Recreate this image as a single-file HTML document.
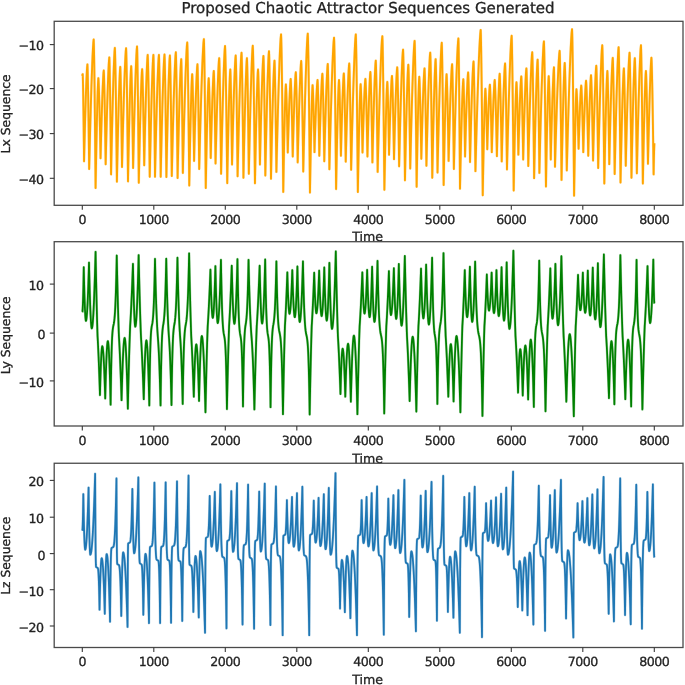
<!DOCTYPE html>
<html><head><meta charset="utf-8"><title>Proposed Chaotic Attractor Sequences Generated</title>
<style>html,body{margin:0;padding:0;background:#fff}body{width:685px;height:685px;overflow:hidden}svg{display:block}text{stroke:#222;stroke-width:0.3px;text-rendering:geometricPrecision}</style></head>
<body>
<svg width="685" height="685" viewBox="0 0 685 685" font-family="'DejaVu Sans', 'Liberation Sans', sans-serif" fill="#222">
<rect width="685" height="685" fill="#fff"/>
<text transform="translate(368.0,12.9) scale(1,1.0)" font-size="15.02" text-anchor="middle">Proposed Chaotic Attractor Sequences Generated</text>
<defs><path id="c0" d="M82.30,76.20 L82.33,75.96 L82.37,75.74 L82.40,75.52 L82.43,75.31 L82.47,75.11 L82.50,74.92 L82.53,74.75 L82.57,74.60 L82.60,74.46 L82.63,74.33 L82.67,74.24 L82.70,74.18 L82.81,76.56 L82.93,80.66 L83.04,85.84 L83.15,91.88 L83.26,98.64 L83.38,106.04 L83.49,114.02 L83.60,122.53 L83.71,131.53 L83.83,141.00 L83.94,150.90 L84.05,161.22 L84.33,149.74 L84.61,138.73 L84.89,128.20 L85.17,118.18 L85.45,108.71 L85.73,99.84 L86.01,91.61 L86.29,84.09 L86.57,77.37 L86.85,71.61 L87.13,67.04 L87.41,64.40 L87.55,67.25 L87.70,72.18 L87.85,78.41 L87.99,85.66 L88.14,93.78 L88.28,102.67 L88.43,112.26 L88.58,122.48 L88.72,133.29 L88.87,144.67 L89.01,156.56 L89.16,168.95 L89.54,153.60 L89.91,138.87 L90.29,124.78 L90.67,111.38 L91.05,98.72 L91.42,86.84 L91.80,75.83 L92.18,65.77 L92.55,56.79 L92.93,49.08 L93.31,42.97 L93.69,39.44 L93.84,43.48 L94.00,50.49 L94.16,59.33 L94.32,69.63 L94.48,81.17 L94.64,93.79 L94.79,107.40 L94.95,121.92 L95.11,137.29 L95.27,153.44 L95.43,170.33 L95.58,187.93 L95.82,174.92 L96.05,162.42 L96.28,150.48 L96.51,139.12 L96.74,128.38 L96.97,118.32 L97.20,108.98 L97.43,100.45 L97.66,92.84 L97.90,86.30 L98.13,81.12 L98.36,78.13 L98.54,80.31 L98.72,84.09 L98.91,88.87 L99.09,94.43 L99.27,100.65 L99.45,107.47 L99.64,114.82 L99.82,122.66 L100.00,130.95 L100.18,139.67 L100.36,148.79 L100.55,158.30 L100.82,147.89 L101.08,137.91 L101.35,128.36 L101.62,119.29 L101.89,110.70 L102.15,102.66 L102.42,95.20 L102.69,88.38 L102.96,82.29 L103.22,77.07 L103.49,72.93 L103.76,70.54 L103.92,73.09 L104.08,77.51 L104.23,83.09 L104.39,89.60 L104.55,96.88 L104.71,104.85 L104.87,113.44 L105.02,122.61 L105.18,132.31 L105.34,142.50 L105.50,153.17 L105.66,164.28 L105.96,151.61 L106.27,139.45 L106.57,127.83 L106.87,116.77 L107.18,106.32 L107.48,96.52 L107.79,87.43 L108.09,79.13 L108.39,71.72 L108.70,65.35 L109.00,60.31 L109.31,57.40 L109.45,60.58 L109.60,66.10 L109.74,73.07 L109.89,81.18 L110.04,90.26 L110.18,100.21 L110.33,110.93 L110.47,122.36 L110.62,134.46 L110.77,147.18 L110.91,160.49 L111.06,174.36 L111.37,159.37 L111.69,144.98 L112.01,131.23 L112.32,118.15 L112.64,105.78 L112.96,94.19 L113.27,83.44 L113.59,73.62 L113.91,64.85 L114.22,57.32 L114.54,51.35 L114.85,47.91 L115.02,51.55 L115.19,57.86 L115.36,65.83 L115.54,75.10 L115.71,85.49 L115.88,96.86 L116.05,109.12 L116.22,122.20 L116.39,136.04 L116.56,150.58 L116.73,165.80 L116.90,181.65 L117.18,168.05 L117.46,154.99 L117.74,142.51 L118.02,130.64 L118.30,119.42 L118.58,108.89 L118.86,99.13 L119.14,90.22 L119.42,82.26 L119.70,75.43 L119.98,70.01 L120.26,66.89 L120.40,69.61 L120.55,74.34 L120.69,80.31 L120.84,87.25 L120.99,95.03 L121.13,103.55 L121.28,112.73 L121.42,122.53 L121.57,132.89 L121.72,143.79 L121.86,155.18 L122.01,167.06 L122.35,152.97 L122.69,139.44 L123.03,126.52 L123.37,114.22 L123.71,102.60 L124.05,91.70 L124.39,81.60 L124.73,72.36 L125.07,64.12 L125.41,57.04 L125.75,51.44 L126.09,48.20 L126.25,51.83 L126.41,58.11 L126.57,66.04 L126.73,75.27 L126.89,85.62 L127.04,96.94 L127.20,109.15 L127.36,122.17 L127.52,135.94 L127.68,150.43 L127.83,165.58 L127.99,181.36 L128.26,167.71 L128.53,154.60 L128.80,142.07 L129.06,130.15 L129.33,118.89 L129.60,108.32 L129.87,98.53 L130.13,89.58 L130.40,81.59 L130.67,74.73 L130.94,69.29 L131.20,66.16 L131.36,68.93 L131.52,73.73 L131.68,79.79 L131.84,86.85 L132.00,94.75 L132.15,103.41 L132.31,112.74 L132.47,122.69 L132.63,133.22 L132.79,144.29 L132.94,155.87 L133.10,167.93 L133.43,153.53 L133.76,139.71 L134.09,126.50 L134.42,113.93 L134.74,102.05 L135.07,90.91 L135.40,80.58 L135.73,71.15 L136.06,62.72 L136.39,55.49 L136.72,49.76 L137.04,46.45 L137.19,50.16 L137.34,56.60 L137.48,64.72 L137.63,74.17 L137.77,84.77 L137.92,96.36 L138.07,108.87 L138.21,122.20 L138.36,136.31 L138.50,151.14 L138.65,166.66 L138.80,182.82 L139.08,169.34 L139.36,156.40 L139.64,144.03 L139.91,132.26 L140.19,121.14 L140.47,110.71 L140.75,101.04 L141.03,92.20 L141.31,84.31 L141.59,77.54 L141.87,72.17 L142.15,69.08 L142.32,71.70 L142.49,76.24 L142.66,81.97 L142.83,88.64 L143.00,96.11 L143.18,104.30 L143.35,113.12 L143.52,122.53 L143.69,132.48 L143.86,142.95 L144.03,153.90 L144.20,165.30 L144.49,152.22 L144.78,139.66 L145.07,127.65 L145.36,116.23 L145.66,105.44 L145.95,95.32 L146.24,85.93 L146.53,77.36 L146.82,69.70 L147.12,63.13 L147.41,57.92 L147.70,54.91 L147.87,58.23 L148.04,63.98 L148.21,71.23 L148.38,79.67 L148.55,89.13 L148.72,99.49 L148.89,110.65 L149.06,122.56 L149.23,135.16 L149.40,148.40 L149.57,162.26 L149.74,176.69 L150.05,162.26 L150.35,148.40 L150.66,135.16 L150.96,122.56 L151.27,110.65 L151.57,99.49 L151.87,89.13 L152.18,79.67 L152.48,71.23 L152.79,63.98 L153.09,58.23 L153.39,54.91 L153.53,58.23 L153.66,63.98 L153.80,71.23 L153.93,79.67 L154.06,89.13 L154.20,99.49 L154.33,110.65 L154.46,122.56 L154.60,135.16 L154.73,148.40 L154.87,162.26 L155.00,176.69 L155.33,162.26 L155.66,148.40 L155.99,135.16 L156.31,122.56 L156.64,110.65 L156.97,99.49 L157.30,89.13 L157.63,79.67 L157.96,71.23 L158.28,63.98 L158.61,58.23 L158.94,54.91 L159.09,58.23 L159.23,63.98 L159.38,71.23 L159.53,79.67 L159.67,89.13 L159.82,99.49 L159.96,110.65 L160.11,122.56 L160.26,135.16 L160.40,148.40 L160.55,162.26 L160.69,176.69 L161.01,162.20 L161.33,148.30 L161.64,135.01 L161.96,122.36 L162.27,110.41 L162.59,99.21 L162.91,88.82 L163.22,79.32 L163.54,70.85 L163.86,63.57 L164.17,57.81 L164.49,54.48 L164.65,57.81 L164.81,63.59 L164.96,70.89 L165.12,79.38 L165.28,88.90 L165.44,99.32 L165.60,110.55 L165.75,122.53 L165.91,135.20 L166.07,148.52 L166.23,162.46 L166.39,176.98 L166.68,162.58 L166.97,148.76 L167.26,135.55 L167.55,122.98 L167.85,111.10 L168.14,99.96 L168.43,89.63 L168.72,80.20 L169.01,71.77 L169.31,64.54 L169.60,58.81 L169.89,55.50 L170.05,58.78 L170.21,64.46 L170.36,71.64 L170.52,79.99 L170.68,89.35 L170.84,99.59 L171.00,110.63 L171.16,122.41 L171.31,134.87 L171.47,147.98 L171.63,161.68 L171.79,175.96 L172.13,161.30 L172.46,147.23 L172.80,133.78 L173.14,120.99 L173.48,108.89 L173.81,97.55 L174.15,87.04 L174.49,77.43 L174.83,68.86 L175.16,61.49 L175.50,55.66 L175.84,52.29 L175.99,55.71 L176.13,61.64 L176.28,69.13 L176.42,77.85 L176.57,87.61 L176.72,98.30 L176.86,109.83 L177.01,122.12 L177.15,135.13 L177.30,148.80 L177.45,163.10 L177.59,178.01 L177.90,163.92 L178.20,150.39 L178.50,137.47 L178.81,125.17 L179.11,113.55 L179.42,102.65 L179.72,92.55 L180.02,83.31 L180.33,75.07 L180.63,67.99 L180.94,62.39 L181.24,59.15 L181.37,62.25 L181.51,67.61 L181.64,74.39 L181.78,82.27 L181.91,91.11 L182.04,100.78 L182.18,111.21 L182.31,122.33 L182.45,134.10 L182.58,146.47 L182.71,159.41 L182.85,172.90 L183.21,157.44 L183.58,142.61 L183.94,128.42 L184.31,114.93 L184.67,102.19 L185.04,90.23 L185.40,79.14 L185.77,69.02 L186.13,59.97 L186.50,52.21 L186.86,46.06 L187.23,42.51 L187.40,46.40 L187.57,53.14 L187.74,61.66 L187.91,71.57 L188.08,82.67 L188.25,94.83 L188.42,107.93 L188.59,121.91 L188.76,136.70 L188.93,152.24 L189.10,168.51 L189.27,185.45 L189.51,172.26 L189.76,159.60 L190.00,147.50 L190.24,135.99 L190.49,125.11 L190.73,114.91 L190.97,105.45 L191.22,96.81 L191.46,89.09 L191.70,82.46 L191.95,77.22 L192.19,74.18 L192.35,76.55 L192.51,80.64 L192.66,85.81 L192.82,91.82 L192.98,98.56 L193.14,105.93 L193.30,113.89 L193.45,122.37 L193.61,131.34 L193.77,140.77 L193.93,150.64 L194.09,160.92 L194.37,149.47 L194.65,138.47 L194.93,127.95 L195.21,117.95 L195.49,108.50 L195.77,99.64 L196.05,91.42 L196.33,83.91 L196.61,77.21 L196.89,71.45 L197.17,66.89 L197.45,64.26 L197.59,67.11 L197.74,72.05 L197.88,78.28 L198.03,85.54 L198.18,93.68 L198.32,102.58 L198.47,112.18 L198.61,122.41 L198.76,133.25 L198.91,144.63 L199.05,156.54 L199.20,168.95 L199.59,153.57 L199.98,138.80 L200.36,124.68 L200.75,111.25 L201.14,98.56 L201.53,86.66 L201.92,75.62 L202.31,65.54 L202.70,56.54 L203.09,48.81 L203.48,42.68 L203.87,39.15 L204.03,43.20 L204.18,50.22 L204.34,59.08 L204.50,69.40 L204.66,80.96 L204.82,93.61 L204.98,107.25 L205.13,121.79 L205.29,137.19 L205.45,153.37 L205.61,170.30 L205.77,187.93 L206.01,174.93 L206.25,162.46 L206.50,150.53 L206.74,139.19 L206.98,128.46 L207.23,118.41 L207.47,109.09 L207.71,100.57 L207.96,92.96 L208.20,86.43 L208.44,81.26 L208.69,78.27 L208.86,80.44 L209.03,84.21 L209.20,88.95 L209.37,94.48 L209.54,100.68 L209.71,107.46 L209.88,114.77 L210.05,122.56 L210.22,130.81 L210.39,139.48 L210.56,148.55 L210.73,158.01 L210.99,147.69 L211.24,137.79 L211.50,128.32 L211.75,119.32 L212.01,110.81 L212.26,102.83 L212.52,95.43 L212.77,88.67 L213.03,82.63 L213.28,77.45 L213.54,73.34 L213.80,70.97 L213.94,73.49 L214.09,77.86 L214.23,83.38 L214.38,89.80 L214.53,96.99 L214.67,104.86 L214.82,113.35 L214.96,122.40 L215.11,131.98 L215.26,142.05 L215.40,152.58 L215.55,163.55 L215.85,151.06 L216.16,139.06 L216.46,127.59 L216.76,116.69 L217.07,106.38 L217.37,96.71 L217.68,87.75 L217.98,79.56 L218.28,72.25 L218.59,65.97 L218.89,61.00 L219.20,58.13 L219.36,61.28 L219.51,66.73 L219.67,73.62 L219.83,81.64 L219.99,90.62 L220.15,100.45 L220.30,111.06 L220.46,122.36 L220.62,134.33 L220.78,146.91 L220.94,160.06 L221.09,173.77 L221.42,158.63 L221.75,144.09 L222.08,130.20 L222.41,116.98 L222.74,104.49 L223.07,92.77 L223.39,81.91 L223.72,71.99 L224.05,63.13 L224.38,55.52 L224.71,49.49 L225.04,46.01 L225.22,49.74 L225.40,56.21 L225.58,64.38 L225.77,73.89 L225.95,84.53 L226.13,96.19 L226.31,108.76 L226.50,122.17 L226.68,136.35 L226.86,151.26 L227.04,166.86 L227.23,183.11 L227.48,169.65 L227.74,156.72 L227.99,144.37 L228.25,132.62 L228.50,121.51 L228.76,111.09 L229.01,101.43 L229.27,92.61 L229.53,84.73 L229.78,77.97 L230.04,72.61 L230.29,69.51 L230.44,72.10 L230.58,76.59 L230.73,82.25 L230.88,88.84 L231.02,96.22 L231.17,104.31 L231.31,113.02 L231.46,122.32 L231.61,132.15 L231.75,142.49 L231.90,153.31 L232.04,164.57 L232.35,151.65 L232.65,139.24 L232.96,127.37 L233.26,116.09 L233.56,105.42 L233.87,95.42 L234.17,86.15 L234.48,77.68 L234.78,70.11 L235.09,63.62 L235.39,58.47 L235.69,55.50 L235.85,58.79 L236.01,64.48 L236.17,71.68 L236.33,80.05 L236.48,89.43 L236.64,99.70 L236.80,110.77 L236.96,122.58 L237.12,135.07 L237.27,148.20 L237.43,161.94 L237.59,176.25 L237.92,161.61 L238.25,147.56 L238.58,134.12 L238.91,121.34 L239.23,109.26 L239.56,97.94 L239.89,87.44 L240.22,77.84 L240.55,69.27 L240.88,61.92 L241.20,56.09 L241.53,52.72 L241.69,56.13 L241.85,62.03 L242.01,69.47 L242.17,78.14 L242.32,87.85 L242.48,98.47 L242.64,109.93 L242.80,122.15 L242.96,135.08 L243.11,148.68 L243.27,162.90 L243.43,177.71 L243.72,163.54 L244.01,149.93 L244.31,136.93 L244.60,124.55 L244.89,112.86 L245.18,101.90 L245.47,91.73 L245.77,82.44 L246.06,74.15 L246.35,67.03 L246.64,61.38 L246.93,58.13 L247.09,61.28 L247.25,66.73 L247.41,73.62 L247.57,81.64 L247.73,90.62 L247.88,100.45 L248.04,111.06 L248.20,122.36 L248.36,134.33 L248.52,146.91 L248.67,160.06 L248.83,173.77 L249.16,158.59 L249.49,144.02 L249.82,130.10 L250.15,116.85 L250.47,104.33 L250.80,92.59 L251.13,81.70 L251.46,71.75 L251.79,62.87 L252.12,55.25 L252.45,49.21 L252.77,45.72 L252.96,49.46 L253.14,55.95 L253.32,64.14 L253.50,73.68 L253.69,84.37 L253.87,96.06 L254.05,108.67 L254.23,122.12 L254.42,136.35 L254.60,151.31 L254.78,166.96 L254.96,183.26 L255.22,169.78 L255.47,156.84 L255.73,144.46 L255.99,132.70 L256.24,121.58 L256.50,111.15 L256.75,101.48 L257.01,92.64 L257.26,84.75 L257.52,77.98 L257.77,72.61 L258.03,69.51 L258.19,72.10 L258.35,76.59 L258.50,82.25 L258.66,88.84 L258.82,96.22 L258.98,104.31 L259.14,113.02 L259.29,122.32 L259.45,132.15 L259.61,142.49 L259.77,153.31 L259.93,164.57 L260.22,151.70 L260.51,139.34 L260.80,127.52 L261.09,116.28 L261.39,105.66 L261.68,95.70 L261.97,86.46 L262.26,78.02 L262.55,70.49 L262.85,64.02 L263.14,58.90 L263.43,55.94 L263.59,59.19 L263.75,64.84 L263.91,71.96 L264.06,80.25 L264.22,89.54 L264.38,99.71 L264.54,110.67 L264.70,122.36 L264.85,134.74 L265.01,147.74 L265.17,161.35 L265.33,175.52 L265.63,160.79 L265.94,146.66 L266.24,133.14 L266.55,120.29 L266.85,108.14 L267.15,96.75 L267.46,86.18 L267.76,76.53 L268.07,67.91 L268.37,60.51 L268.67,54.65 L268.98,51.26 L269.15,54.74 L269.31,60.75 L269.48,68.34 L269.65,77.18 L269.81,87.08 L269.98,97.92 L270.15,109.61 L270.32,122.07 L270.48,135.26 L270.65,149.12 L270.82,163.63 L270.99,178.74 L271.28,164.73 L271.57,151.29 L271.86,138.45 L272.15,126.23 L272.45,114.67 L272.74,103.85 L273.03,93.80 L273.32,84.63 L273.61,76.43 L273.91,69.40 L274.20,63.83 L274.49,60.61 L274.65,63.64 L274.81,68.89 L274.96,75.51 L275.12,83.23 L275.28,91.87 L275.44,101.33 L275.60,111.53 L275.75,122.41 L275.91,133.92 L276.07,146.03 L276.23,158.69 L276.39,171.87 L276.78,155.57 L277.17,139.92 L277.55,124.96 L277.94,110.73 L278.33,97.28 L278.72,84.67 L279.11,72.98 L279.50,62.30 L279.89,52.76 L280.28,44.57 L280.67,38.08 L281.06,34.33 L281.24,38.62 L281.42,46.05 L281.61,55.44 L281.79,66.36 L281.97,78.60 L282.15,91.99 L282.34,106.44 L282.52,121.84 L282.70,138.14 L282.88,155.28 L283.07,173.20 L283.25,191.87 L283.47,179.14 L283.69,166.91 L283.91,155.22 L284.12,144.10 L284.34,133.59 L284.56,123.74 L284.78,114.60 L285.00,106.25 L285.22,98.80 L285.44,92.40 L285.66,87.33 L285.88,84.40 L286.03,86.26 L286.19,89.47 L286.35,93.52 L286.51,98.24 L286.67,103.53 L286.82,109.31 L286.98,115.55 L287.14,122.21 L287.30,129.25 L287.46,136.65 L287.62,144.39 L287.77,152.46 L288.02,143.75 L288.26,135.39 L288.50,127.40 L288.75,119.81 L288.99,112.62 L289.23,105.89 L289.48,99.64 L289.72,93.94 L289.96,88.84 L290.21,84.47 L290.45,81.00 L290.69,79.00 L290.86,81.11 L291.03,84.77 L291.20,89.39 L291.37,94.77 L291.55,100.79 L291.72,107.38 L291.89,114.49 L292.06,122.08 L292.23,130.10 L292.40,138.53 L292.57,147.35 L292.74,156.55 L292.99,146.56 L293.25,136.97 L293.50,127.81 L293.76,119.09 L294.01,110.85 L294.27,103.13 L294.53,95.96 L294.78,89.42 L295.04,83.58 L295.29,78.56 L295.55,74.58 L295.80,72.29 L295.96,74.74 L296.12,78.99 L296.28,84.36 L296.44,90.61 L296.59,97.60 L296.75,105.26 L296.91,113.52 L297.07,122.33 L297.23,131.65 L297.38,141.45 L297.54,151.71 L297.70,162.38 L297.99,150.37 L298.28,138.84 L298.58,127.82 L298.87,117.34 L299.16,107.43 L299.45,98.14 L299.74,89.52 L300.04,81.65 L300.33,74.62 L300.62,68.59 L300.91,63.81 L301.20,61.05 L301.37,64.06 L301.55,69.27 L301.72,75.85 L301.89,83.52 L302.06,92.11 L302.23,101.50 L302.40,111.64 L302.57,122.45 L302.74,133.88 L302.91,145.90 L303.08,158.48 L303.25,171.58 L303.63,155.23 L304.00,139.53 L304.38,124.52 L304.76,110.25 L305.13,96.75 L305.51,84.10 L305.89,72.37 L306.27,61.65 L306.64,52.09 L307.02,43.87 L307.40,37.36 L307.77,33.60 L307.96,37.93 L308.14,45.43 L308.32,54.90 L308.50,65.93 L308.69,78.28 L308.87,91.80 L309.05,106.38 L309.23,121.92 L309.42,138.37 L309.60,155.67 L309.78,173.76 L309.96,192.60 L310.18,179.87 L310.40,167.64 L310.62,155.95 L310.84,144.83 L311.06,134.32 L311.28,124.47 L311.50,115.33 L311.72,106.98 L311.93,99.53 L312.15,93.13 L312.37,88.06 L312.59,85.13 L312.75,86.96 L312.91,90.12 L313.07,94.11 L313.22,98.76 L313.38,103.97 L313.54,109.67 L313.70,115.81 L313.86,122.37 L314.01,129.30 L314.17,136.59 L314.33,144.22 L314.49,152.17 L314.74,143.61 L315.00,135.41 L315.26,127.56 L315.51,120.10 L315.77,113.04 L316.02,106.43 L316.28,100.30 L316.53,94.69 L316.79,89.69 L317.04,85.39 L317.30,81.99 L317.55,80.02 L317.70,82.09 L317.85,85.66 L317.99,90.18 L318.14,95.43 L318.28,101.32 L318.43,107.77 L318.58,114.71 L318.72,122.12 L318.87,129.97 L319.01,138.21 L319.16,146.83 L319.31,155.82 L319.56,146.09 L319.82,136.75 L320.07,127.82 L320.33,119.33 L320.58,111.31 L320.84,103.79 L321.09,96.81 L321.35,90.43 L321.61,84.74 L321.86,79.85 L322.12,75.98 L322.37,73.75 L322.53,76.13 L322.69,80.26 L322.85,85.47 L323.00,91.53 L323.16,98.33 L323.32,105.76 L323.48,113.78 L323.64,122.33 L323.80,131.38 L323.95,140.90 L324.11,150.85 L324.27,161.22 L324.56,149.69 L324.85,138.62 L325.15,128.05 L325.44,117.99 L325.73,108.48 L326.02,99.56 L326.31,91.29 L326.61,83.74 L326.90,76.99 L327.19,71.20 L327.48,66.61 L327.77,63.97 L327.91,66.83 L328.04,71.80 L328.18,78.07 L328.31,85.37 L328.44,93.55 L328.58,102.50 L328.71,112.15 L328.84,122.45 L328.98,133.34 L329.11,144.79 L329.25,156.77 L329.38,169.25 L329.77,153.65 L330.16,138.68 L330.55,124.38 L330.94,110.77 L331.33,97.90 L331.72,85.84 L332.10,74.65 L332.49,64.44 L332.88,55.31 L333.27,47.48 L333.66,41.27 L334.05,37.69 L334.22,41.81 L334.39,48.96 L334.56,57.97 L334.73,68.47 L334.90,80.23 L335.07,93.11 L335.24,106.99 L335.41,121.79 L335.58,137.46 L335.75,153.93 L335.92,171.15 L336.09,189.10 L336.34,176.17 L336.58,163.76 L336.82,151.90 L337.07,140.61 L337.31,129.95 L337.55,119.95 L337.80,110.67 L338.04,102.20 L338.28,94.64 L338.53,88.14 L338.77,83.00 L339.01,80.02 L339.17,82.09 L339.33,85.66 L339.49,90.18 L339.65,95.43 L339.81,101.32 L339.96,107.77 L340.12,114.71 L340.28,122.12 L340.44,129.97 L340.60,138.21 L340.75,146.83 L340.91,155.82 L341.16,146.05 L341.40,136.68 L341.64,127.72 L341.89,119.20 L342.13,111.15 L342.37,103.60 L342.62,96.60 L342.86,90.20 L343.10,84.49 L343.35,79.58 L343.59,75.70 L343.83,73.45 L343.99,75.86 L344.15,80.02 L344.31,85.27 L344.46,91.39 L344.62,98.24 L344.78,105.74 L344.94,113.82 L345.10,122.45 L345.26,131.57 L345.41,141.17 L345.57,151.20 L345.73,161.65 L346.02,150.02 L346.31,138.86 L346.61,128.19 L346.90,118.04 L347.19,108.44 L347.48,99.44 L347.77,91.10 L348.07,83.48 L348.36,76.67 L348.65,70.83 L348.94,66.20 L349.23,63.53 L349.39,66.42 L349.55,71.43 L349.71,77.75 L349.87,85.11 L350.02,93.36 L350.18,102.38 L350.34,112.12 L350.50,122.50 L350.66,133.48 L350.82,145.02 L350.97,157.10 L351.13,169.68 L351.52,153.64 L351.91,138.24 L352.30,123.52 L352.69,109.52 L353.08,96.28 L353.47,83.87 L353.86,72.36 L354.25,61.85 L354.64,52.46 L355.02,44.40 L355.41,38.02 L355.80,34.33 L355.97,38.63 L356.14,46.07 L356.31,55.46 L356.48,66.39 L356.65,78.64 L356.82,92.05 L357.00,106.50 L357.17,121.92 L357.34,138.24 L357.51,155.39 L357.68,173.33 L357.85,192.02 L358.08,179.23 L358.31,166.95 L358.54,155.22 L358.77,144.05 L359.00,133.50 L359.23,123.61 L359.46,114.43 L359.70,106.05 L359.93,98.57 L360.16,92.14 L360.39,87.05 L360.62,84.11 L360.78,85.97 L360.94,89.20 L361.09,93.27 L361.25,98.01 L361.41,103.32 L361.57,109.13 L361.73,115.39 L361.89,122.08 L362.04,129.15 L362.20,136.58 L362.36,144.36 L362.52,152.46 L362.76,143.73 L363.00,135.36 L363.24,127.35 L363.48,119.74 L363.72,112.54 L363.96,105.80 L364.20,99.54 L364.44,93.82 L364.68,88.72 L364.92,84.33 L365.16,80.86 L365.40,78.86 L365.57,80.97 L365.74,84.64 L365.91,89.26 L366.08,94.65 L366.25,100.69 L366.42,107.29 L366.59,114.41 L366.76,122.01 L366.93,130.05 L367.10,138.50 L367.27,147.34 L367.45,156.55 L367.69,146.52 L367.93,136.90 L368.18,127.71 L368.42,118.96 L368.66,110.69 L368.91,102.94 L369.15,95.75 L369.39,89.19 L369.64,83.32 L369.88,78.29 L370.12,74.30 L370.36,71.99 L370.54,74.46 L370.71,78.72 L370.88,84.10 L371.05,90.37 L371.22,97.39 L371.39,105.08 L371.56,113.37 L371.73,122.20 L371.90,131.56 L372.07,141.39 L372.24,151.67 L372.41,162.38 L372.69,150.32 L372.97,138.74 L373.25,127.67 L373.53,117.14 L373.81,107.19 L374.09,97.86 L374.37,89.21 L374.65,81.30 L374.93,74.24 L375.21,68.18 L375.49,63.38 L375.77,60.61 L375.92,63.64 L376.08,68.89 L376.24,75.51 L376.40,83.23 L376.56,91.87 L376.72,101.33 L376.87,111.53 L377.03,122.41 L377.19,133.92 L377.35,146.03 L377.51,158.69 L377.66,171.87 L378.05,155.80 L378.44,140.36 L378.83,125.61 L379.22,111.58 L379.61,98.31 L380.00,85.88 L380.39,74.34 L380.78,63.81 L381.17,54.40 L381.56,46.32 L381.95,39.92 L382.34,36.23 L382.51,40.41 L382.68,47.66 L382.85,56.81 L383.02,67.46 L383.19,79.39 L383.36,92.45 L383.53,106.53 L383.70,121.55 L383.87,137.44 L384.04,154.15 L384.21,171.62 L384.38,189.83 L384.62,177.04 L384.87,164.76 L385.11,153.03 L385.35,141.86 L385.60,131.31 L385.84,121.42 L386.08,112.24 L386.33,103.86 L386.57,96.38 L386.81,89.95 L387.06,84.86 L387.30,81.92 L387.45,83.91 L387.59,87.34 L387.74,91.68 L387.88,96.74 L388.03,102.40 L388.18,108.59 L388.32,115.28 L388.47,122.40 L388.61,129.94 L388.76,137.86 L388.91,146.16 L389.05,154.79 L389.29,145.45 L389.54,136.47 L389.78,127.90 L390.02,119.74 L390.27,112.03 L390.51,104.80 L390.75,98.09 L391.00,91.97 L391.24,86.50 L391.48,81.80 L391.73,78.08 L391.97,75.94 L392.14,78.20 L392.31,82.13 L392.48,87.09 L392.65,92.86 L392.82,99.33 L392.99,106.40 L393.16,114.03 L393.33,122.17 L393.50,130.78 L393.67,139.84 L393.84,149.31 L394.01,159.17 L394.28,148.29 L394.55,137.84 L394.82,127.85 L395.09,118.34 L395.35,109.36 L395.62,100.94 L395.89,93.13 L396.16,86.00 L396.42,79.63 L396.69,74.16 L396.96,69.83 L397.23,67.32 L397.38,70.02 L397.54,74.69 L397.70,80.59 L397.86,87.45 L398.02,95.14 L398.18,103.56 L398.33,112.64 L398.49,122.32 L398.65,132.56 L398.81,143.33 L398.97,154.59 L399.12,166.33 L399.45,152.50 L399.78,139.22 L400.11,126.53 L400.44,114.47 L400.77,103.06 L401.09,92.36 L401.42,82.44 L401.75,73.38 L402.08,65.29 L402.41,58.34 L402.74,52.84 L403.07,49.66 L403.22,53.22 L403.38,59.38 L403.54,67.17 L403.70,76.23 L403.86,86.38 L404.01,97.49 L404.17,109.47 L404.33,122.25 L404.49,135.77 L404.65,149.98 L404.81,164.85 L404.96,180.34 L405.24,166.63 L405.52,153.48 L405.80,140.90 L406.08,128.93 L406.36,117.63 L406.64,107.02 L406.92,97.19 L407.20,88.21 L407.48,80.19 L407.76,73.30 L408.04,67.85 L408.32,64.70 L408.48,67.52 L408.64,72.42 L408.80,78.60 L408.95,85.80 L409.11,93.87 L409.27,102.70 L409.43,112.21 L409.59,122.37 L409.74,133.11 L409.90,144.40 L410.06,156.21 L410.22,168.52 L410.58,153.39 L410.95,138.87 L411.31,124.99 L411.68,111.79 L412.04,99.31 L412.41,87.61 L412.77,76.76 L413.14,66.85 L413.50,58.00 L413.87,50.40 L414.23,44.38 L414.60,40.90 L414.77,44.87 L414.94,51.75 L415.11,60.44 L415.28,70.56 L415.45,81.89 L415.62,94.29 L415.79,107.66 L415.96,121.92 L416.13,137.01 L416.30,152.88 L416.47,169.47 L416.64,186.76 L416.86,173.73 L417.08,161.22 L417.30,149.26 L417.52,137.89 L417.74,127.14 L417.96,117.06 L418.18,107.71 L418.39,99.17 L418.61,91.54 L418.83,84.99 L419.05,79.81 L419.27,76.81 L419.44,79.04 L419.61,82.91 L419.78,87.79 L419.95,93.47 L420.12,99.83 L420.29,106.80 L420.46,114.31 L420.63,122.32 L420.80,130.79 L420.97,139.70 L421.14,149.02 L421.31,158.74 L421.58,148.02 L421.85,137.74 L422.12,127.91 L422.38,118.55 L422.65,109.72 L422.92,101.43 L423.19,93.74 L423.45,86.72 L423.72,80.45 L423.99,75.07 L424.26,70.81 L424.53,68.35 L424.68,71.00 L424.84,75.59 L425.00,81.39 L425.16,88.15 L425.32,95.71 L425.47,103.99 L425.63,112.92 L425.79,122.45 L425.95,132.52 L426.11,143.12 L426.27,154.20 L426.42,165.74 L426.74,152.33 L427.06,139.45 L427.37,127.15 L427.69,115.44 L428.00,104.37 L428.32,94.00 L428.64,84.38 L428.95,75.59 L429.27,67.74 L429.59,61.00 L429.90,55.66 L430.22,52.58 L430.39,55.99 L430.56,61.89 L430.73,69.34 L430.90,78.02 L431.07,87.74 L431.24,98.38 L431.41,109.85 L431.58,122.09 L431.75,135.03 L431.92,148.64 L432.09,162.88 L432.26,177.71 L432.54,163.66 L432.82,150.17 L433.10,137.27 L433.38,125.01 L433.66,113.42 L433.94,102.55 L434.22,92.46 L434.50,83.25 L434.78,75.03 L435.06,67.97 L435.34,62.38 L435.62,59.15 L435.78,62.24 L435.94,67.59 L436.09,74.35 L436.25,82.22 L436.41,91.03 L436.57,100.68 L436.73,111.08 L436.89,122.17 L437.04,133.91 L437.20,146.25 L437.36,159.16 L437.52,172.60 L437.87,157.22 L438.22,142.45 L438.58,128.33 L438.93,114.90 L439.28,102.21 L439.64,90.31 L439.99,79.27 L440.34,69.19 L440.69,60.19 L441.05,52.46 L441.40,46.33 L441.75,42.80 L441.91,46.67 L442.07,53.38 L442.23,61.85 L442.38,71.71 L442.54,82.76 L442.70,94.85 L442.86,107.89 L443.02,121.80 L443.18,136.51 L443.33,151.97 L443.49,168.16 L443.65,185.01 L443.89,171.88 L444.14,159.27 L444.38,147.21 L444.62,135.75 L444.87,124.91 L445.11,114.75 L445.35,105.33 L445.60,96.72 L445.84,89.03 L446.08,82.43 L446.33,77.20 L446.57,74.18 L446.74,76.55 L446.91,80.64 L447.08,85.81 L447.25,91.82 L447.42,98.56 L447.59,105.93 L447.76,113.89 L447.93,122.37 L448.10,131.34 L448.27,140.77 L448.44,150.64 L448.61,160.92 L448.91,149.47 L449.20,138.47 L449.49,127.95 L449.78,117.95 L450.07,108.50 L450.36,99.64 L450.66,91.42 L450.95,83.91 L451.24,77.21 L451.53,71.45 L451.82,66.89 L452.12,64.26 L452.26,67.11 L452.41,72.05 L452.55,78.28 L452.70,85.54 L452.85,93.68 L452.99,102.58 L453.14,112.18 L453.28,122.41 L453.43,133.25 L453.58,144.63 L453.72,156.54 L453.87,168.95 L454.25,153.48 L454.62,138.63 L455.00,124.43 L455.38,110.93 L455.75,98.16 L456.13,86.20 L456.51,75.10 L456.89,64.96 L457.26,55.91 L457.64,48.13 L458.02,41.97 L458.39,38.42 L458.53,42.51 L458.66,49.60 L458.80,58.55 L458.93,68.97 L459.06,80.64 L459.20,93.41 L459.33,107.18 L459.46,121.88 L459.60,137.42 L459.73,153.76 L459.87,170.85 L460.00,188.66 L460.28,175.70 L460.55,163.26 L460.83,151.36 L461.11,140.05 L461.38,129.35 L461.66,119.33 L461.94,110.03 L462.21,101.53 L462.49,93.95 L462.77,87.43 L463.04,82.27 L463.32,79.29 L463.47,81.40 L463.61,85.04 L463.76,89.64 L463.91,95.00 L464.05,101.00 L464.20,107.57 L464.34,114.65 L464.49,122.21 L464.64,130.20 L464.78,138.60 L464.93,147.39 L465.07,156.55 L465.33,146.58 L465.58,137.01 L465.84,127.86 L466.09,119.16 L466.35,110.93 L466.61,103.22 L466.86,96.07 L467.12,89.53 L467.37,83.70 L467.63,78.69 L467.88,74.72 L468.14,72.43 L468.30,74.88 L468.45,79.11 L468.61,84.44 L468.77,90.66 L468.93,97.63 L469.09,105.25 L469.25,113.47 L469.40,122.24 L469.56,131.51 L469.72,141.26 L469.88,151.47 L470.04,162.09 L470.33,150.17 L470.62,138.72 L470.91,127.78 L471.20,117.37 L471.50,107.53 L471.79,98.31 L472.08,89.75 L472.37,81.94 L472.66,74.96 L472.96,68.97 L473.25,64.22 L473.54,61.48 L473.70,64.47 L473.86,69.64 L474.01,76.18 L474.17,83.78 L474.33,92.30 L474.49,101.62 L474.65,111.68 L474.81,122.40 L474.96,133.74 L475.12,145.67 L475.28,158.15 L475.44,171.14 L475.88,154.41 L476.31,138.34 L476.75,122.99 L477.19,108.38 L477.63,94.57 L478.07,81.63 L478.50,69.63 L478.94,58.66 L479.38,48.87 L479.82,40.46 L480.26,33.80 L480.69,29.95 L480.86,34.45 L481.03,42.25 L481.20,52.09 L481.37,63.56 L481.55,76.39 L481.72,90.45 L481.89,105.60 L482.06,121.76 L482.23,138.86 L482.40,156.84 L482.57,175.64 L482.74,195.23 L482.96,182.61 L483.18,170.50 L483.39,158.93 L483.61,147.91 L483.83,137.50 L484.05,127.75 L484.27,118.69 L484.49,110.43 L484.71,103.04 L484.93,96.70 L485.15,91.68 L485.36,88.78 L485.52,90.43 L485.68,93.28 L485.84,96.88 L486.00,101.08 L486.16,105.77 L486.31,110.91 L486.47,116.46 L486.63,122.37 L486.79,128.62 L486.95,135.20 L487.10,142.08 L487.26,149.25 L487.48,141.59 L487.70,134.25 L487.92,127.23 L488.14,120.55 L488.36,114.24 L488.58,108.32 L488.80,102.83 L489.01,97.82 L489.23,93.34 L489.45,89.50 L489.67,86.45 L489.89,84.70 L490.05,86.53 L490.21,89.72 L490.36,93.73 L490.52,98.41 L490.68,103.65 L490.84,109.39 L491.00,115.58 L491.16,122.17 L491.31,129.15 L491.47,136.49 L491.63,144.17 L491.79,152.17 L492.03,143.61 L492.27,135.41 L492.52,127.56 L492.76,120.10 L493.00,113.04 L493.25,106.43 L493.49,100.30 L493.73,94.69 L493.98,89.69 L494.22,85.39 L494.46,81.99 L494.71,80.02 L494.89,82.10 L495.07,85.69 L495.26,90.22 L495.44,95.49 L495.62,101.40 L495.80,107.87 L495.99,114.85 L496.17,122.29 L496.35,130.16 L496.53,138.43 L496.72,147.09 L496.90,156.11 L497.13,146.34 L497.36,136.97 L497.59,128.02 L497.82,119.50 L498.05,111.44 L498.28,103.89 L498.52,96.89 L498.75,90.49 L498.98,84.78 L499.21,79.88 L499.44,75.99 L499.67,73.75 L499.84,76.13 L500.01,80.27 L500.18,85.48 L500.35,91.56 L500.52,98.37 L500.69,105.82 L500.86,113.85 L501.03,122.42 L501.20,131.48 L501.37,141.01 L501.55,150.98 L501.72,161.36 L502.00,149.77 L502.27,138.63 L502.55,127.99 L502.83,117.87 L503.11,108.31 L503.39,99.34 L503.67,91.02 L503.95,83.42 L504.23,76.63 L504.51,70.81 L504.79,66.19 L505.07,63.53 L505.23,66.41 L505.39,71.41 L505.55,77.71 L505.71,85.05 L505.86,93.27 L506.02,102.28 L506.18,111.98 L506.34,122.33 L506.50,133.28 L506.65,144.80 L506.81,156.84 L506.97,169.39 L507.36,153.56 L507.75,138.36 L508.14,123.82 L508.53,110.00 L508.92,96.94 L509.31,84.69 L509.70,73.33 L510.09,62.95 L510.47,53.69 L510.86,45.73 L511.25,39.43 L511.64,35.79 L511.81,40.01 L511.98,47.31 L512.15,56.53 L512.32,67.26 L512.49,79.28 L512.66,92.44 L512.83,106.63 L513.00,121.76 L513.18,137.77 L513.35,154.61 L513.52,172.21 L513.69,190.56 L513.92,177.72 L514.15,165.39 L514.38,153.61 L514.61,142.40 L514.84,131.80 L515.07,121.87 L515.30,112.66 L515.54,104.24 L515.77,96.73 L516.00,90.28 L516.23,85.17 L516.46,82.21 L516.62,84.19 L516.78,87.60 L516.93,91.92 L517.09,96.94 L517.25,102.57 L517.41,108.73 L517.57,115.37 L517.73,122.45 L517.88,129.94 L518.04,137.82 L518.20,146.06 L518.36,154.65 L518.60,145.37 L518.84,136.46 L519.09,127.95 L519.33,119.85 L519.57,112.20 L519.82,105.02 L520.06,98.37 L520.30,92.29 L520.55,86.86 L520.79,82.20 L521.03,78.51 L521.28,76.37 L521.44,78.64 L521.59,82.56 L521.75,87.51 L521.91,93.27 L522.07,99.72 L522.23,106.79 L522.38,114.40 L522.54,122.53 L522.70,131.13 L522.86,140.16 L523.02,149.62 L523.18,159.46 L523.44,148.66 L523.71,138.30 L523.98,128.39 L524.25,118.96 L524.51,110.05 L524.78,101.70 L525.05,93.95 L525.32,86.87 L525.58,80.55 L525.85,75.13 L526.12,70.83 L526.39,68.35 L526.55,71.01 L526.70,75.62 L526.86,81.43 L527.02,88.21 L527.18,95.80 L527.34,104.10 L527.49,113.06 L527.65,122.61 L527.81,132.72 L527.97,143.34 L528.13,154.46 L528.28,166.03 L528.61,152.55 L528.94,139.61 L529.27,127.24 L529.60,115.47 L529.93,104.35 L530.26,93.92 L530.58,84.25 L530.91,75.41 L531.24,67.53 L531.57,60.75 L531.90,55.39 L532.23,52.29 L532.38,55.72 L532.54,61.65 L532.70,69.15 L532.86,77.88 L533.02,87.65 L533.18,98.36 L533.33,109.89 L533.49,122.20 L533.65,135.22 L533.81,148.91 L533.97,163.23 L534.12,178.15 L534.42,164.10 L534.71,150.61 L535.00,137.71 L535.29,125.45 L535.58,113.85 L535.88,102.98 L536.17,92.90 L536.46,83.69 L536.75,75.47 L537.04,68.41 L537.34,62.82 L537.63,59.59 L537.77,62.67 L537.92,68.02 L538.07,74.77 L538.21,82.62 L538.36,91.43 L538.50,101.06 L538.65,111.45 L538.80,122.53 L538.94,134.25 L539.09,146.57 L539.23,159.46 L539.38,172.90 L539.76,157.30 L540.13,142.33 L540.51,128.03 L540.89,114.42 L541.27,101.55 L541.64,89.49 L542.02,78.30 L542.40,68.09 L542.77,58.96 L543.15,51.13 L543.53,44.92 L543.91,41.34 L544.08,45.29 L544.25,52.14 L544.42,60.78 L544.59,70.85 L544.76,82.12 L544.93,94.46 L545.10,107.77 L545.27,121.96 L545.44,136.97 L545.61,152.76 L545.78,169.27 L545.95,186.47 L546.18,173.39 L546.41,160.83 L546.64,148.82 L546.87,137.40 L547.10,126.61 L547.34,116.49 L547.57,107.10 L547.80,98.53 L548.03,90.87 L548.26,84.30 L548.49,79.09 L548.72,76.08 L548.89,78.35 L549.06,82.29 L549.23,87.25 L549.40,93.04 L549.57,99.51 L549.74,106.60 L549.91,114.25 L550.09,122.40 L550.26,131.03 L550.43,140.09 L550.60,149.58 L550.77,159.46 L551.03,148.54 L551.30,138.06 L551.57,128.04 L551.84,118.51 L552.10,109.50 L552.37,101.05 L552.64,93.21 L552.91,86.06 L553.18,79.67 L553.44,74.18 L553.71,69.83 L553.98,67.32 L554.06,70.03 L554.15,74.72 L554.23,80.65 L554.32,87.54 L554.40,95.27 L554.49,103.72 L554.57,112.84 L554.66,122.56 L554.74,132.85 L554.83,143.66 L554.91,154.98 L555.00,166.76 L555.39,153.02 L555.77,139.83 L556.16,127.22 L556.55,115.23 L556.93,103.89 L557.32,93.26 L557.70,83.40 L558.09,74.40 L558.48,66.36 L558.86,59.45 L559.25,53.98 L559.64,50.83 L559.79,54.34 L559.95,60.43 L560.11,68.12 L560.27,77.07 L560.43,87.10 L560.58,98.07 L560.74,109.90 L560.90,122.53 L561.06,135.88 L561.22,149.92 L561.37,164.60 L561.53,179.90 L561.80,166.04 L562.07,152.73 L562.34,140.01 L562.60,127.91 L562.87,116.48 L563.14,105.75 L563.41,95.81 L563.67,86.72 L563.94,78.61 L564.21,71.65 L564.48,66.13 L564.74,62.94 L564.91,65.87 L565.09,70.94 L565.26,77.34 L565.43,84.79 L565.60,93.14 L565.77,102.28 L565.94,112.13 L566.11,122.64 L566.28,133.76 L566.45,145.45 L566.62,157.68 L566.79,170.41 L567.23,153.68 L567.66,137.61 L568.10,122.26 L568.54,107.65 L568.98,93.84 L569.42,80.90 L569.85,68.90 L570.29,57.93 L570.73,48.14 L571.17,39.73 L571.61,33.07 L572.04,29.22 L572.21,33.76 L572.38,41.61 L572.55,51.52 L572.73,63.06 L572.90,75.99 L573.07,90.14 L573.24,105.40 L573.41,121.68 L573.58,138.90 L573.75,157.00 L573.92,175.94 L574.09,195.67 L574.28,183.05 L574.48,170.94 L574.67,159.36 L574.87,148.35 L575.06,137.94 L575.26,128.18 L575.45,119.13 L575.64,110.86 L575.84,103.48 L576.03,97.14 L576.23,92.12 L576.42,89.22 L576.61,90.84 L576.79,93.66 L576.97,97.20 L577.15,101.34 L577.34,105.96 L577.52,111.03 L577.70,116.49 L577.88,122.32 L578.07,128.48 L578.25,134.97 L578.43,141.75 L578.61,148.81 L578.83,141.31 L579.05,134.12 L579.27,127.24 L579.49,120.70 L579.71,114.51 L579.93,108.72 L580.15,103.34 L580.36,98.43 L580.58,94.04 L580.80,90.28 L581.02,87.29 L581.24,85.57 L581.41,87.39 L581.58,90.53 L581.75,94.49 L581.92,99.11 L582.09,104.28 L582.26,109.95 L582.43,116.05 L582.60,122.56 L582.77,129.45 L582.94,136.70 L583.11,144.27 L583.28,152.17 L583.52,143.70 L583.75,135.58 L583.98,127.81 L584.21,120.42 L584.44,113.44 L584.67,106.89 L584.90,100.82 L585.13,95.27 L585.36,90.32 L585.60,86.07 L585.83,82.70 L586.06,80.75 L586.24,82.80 L586.42,86.34 L586.61,90.81 L586.79,96.02 L586.97,101.85 L587.15,108.23 L587.34,115.11 L587.52,122.45 L587.70,130.21 L587.88,138.38 L588.07,146.92 L588.25,155.82 L588.48,146.26 L588.71,137.09 L588.94,128.32 L589.17,119.98 L589.40,112.10 L589.64,104.71 L589.87,97.86 L590.10,91.60 L590.33,86.01 L590.56,81.21 L590.79,77.40 L591.02,75.21 L591.19,77.53 L591.36,81.55 L591.53,86.63 L591.70,92.55 L591.87,99.17 L592.04,106.42 L592.21,114.24 L592.38,122.58 L592.55,131.40 L592.73,140.68 L592.90,150.38 L593.07,160.49 L593.33,149.25 L593.60,138.47 L593.87,128.16 L594.14,118.36 L594.40,109.09 L594.67,100.41 L594.94,92.35 L595.21,84.99 L595.47,78.41 L595.74,72.77 L596.01,68.30 L596.28,65.72 L596.44,68.50 L596.59,73.32 L596.75,79.41 L596.91,86.50 L597.07,94.44 L597.23,103.13 L597.38,112.50 L597.54,122.50 L597.70,133.07 L597.86,144.19 L598.02,155.82 L598.18,167.93 L598.52,153.39 L598.86,139.44 L599.20,126.10 L599.54,113.41 L599.88,101.42 L600.22,90.17 L600.56,79.74 L600.90,70.22 L601.24,61.71 L601.58,54.41 L601.92,48.62 L602.26,45.28 L602.43,49.05 L602.60,55.57 L602.77,63.80 L602.94,73.39 L603.11,84.13 L603.28,95.89 L603.45,108.57 L603.63,122.09 L603.80,136.39 L603.97,151.43 L604.14,167.16 L604.31,183.55 L604.56,170.21 L604.82,157.40 L605.07,145.15 L605.33,133.51 L605.58,122.50 L605.84,112.18 L606.09,102.61 L606.35,93.86 L606.61,86.06 L606.86,79.35 L607.12,74.04 L607.37,70.97 L607.53,73.51 L607.69,77.91 L607.85,83.45 L608.00,89.91 L608.16,97.15 L608.32,105.07 L608.48,113.61 L608.64,122.72 L608.80,132.36 L608.95,142.49 L609.11,153.09 L609.27,164.14 L609.56,151.54 L609.85,139.44 L610.15,127.88 L610.44,116.88 L610.73,106.49 L611.02,96.74 L611.31,87.70 L611.61,79.45 L611.90,72.08 L612.19,65.75 L612.48,60.73 L612.77,57.83 L612.93,61.00 L613.09,66.48 L613.25,73.41 L613.41,81.47 L613.56,90.49 L613.72,100.38 L613.88,111.03 L614.04,122.40 L614.20,134.42 L614.36,147.06 L614.51,160.29 L614.67,174.06 L615.00,159.02 L615.33,144.59 L615.66,130.79 L615.99,117.66 L616.31,105.25 L616.64,93.62 L616.97,82.83 L617.30,72.98 L617.63,64.18 L617.96,56.62 L618.28,50.63 L618.61,47.18 L618.77,50.86 L618.93,57.25 L619.09,65.31 L619.25,74.70 L619.40,85.21 L619.56,96.72 L619.72,109.13 L619.88,122.36 L620.04,136.37 L620.19,151.09 L620.35,166.49 L620.51,182.53 L620.79,169.00 L621.07,156.00 L621.35,143.59 L621.63,131.77 L621.91,120.61 L622.19,110.14 L622.47,100.43 L622.75,91.56 L623.03,83.64 L623.31,76.84 L623.59,71.46 L623.87,68.35 L624.03,71.00 L624.18,75.59 L624.34,81.39 L624.50,88.15 L624.66,95.71 L624.82,103.99 L624.98,112.92 L625.13,122.45 L625.29,132.52 L625.45,143.12 L625.61,154.20 L625.77,165.74 L626.08,152.35 L626.40,139.49 L626.72,127.20 L627.03,115.50 L627.35,104.45 L627.66,94.09 L627.98,84.48 L628.30,75.70 L628.61,67.87 L628.93,61.14 L629.25,55.80 L629.56,52.72 L629.72,56.13 L629.88,62.03 L630.04,69.47 L630.19,78.14 L630.35,87.85 L630.51,98.47 L630.67,109.93 L630.83,122.15 L630.99,135.08 L631.14,148.68 L631.30,162.90 L631.46,177.71 L631.74,163.54 L632.02,149.93 L632.30,136.93 L632.58,124.55 L632.86,112.86 L633.14,101.90 L633.42,91.73 L633.70,82.44 L633.98,74.15 L634.26,67.03 L634.54,61.38 L634.82,58.13 L634.99,61.26 L635.16,66.70 L635.33,73.56 L635.50,81.55 L635.67,90.50 L635.84,100.29 L636.01,110.86 L636.18,122.12 L636.35,134.04 L636.52,146.57 L636.69,159.68 L636.86,173.33 L637.20,158.16 L637.54,143.59 L637.88,129.66 L638.22,116.41 L638.56,103.89 L638.91,92.15 L639.25,81.26 L639.59,71.32 L639.93,62.44 L640.27,54.81 L640.61,48.77 L640.95,45.28 L641.11,49.05 L641.27,55.57 L641.42,63.80 L641.58,73.39 L641.74,84.13 L641.90,95.89 L642.06,108.57 L642.21,122.09 L642.37,136.39 L642.53,151.43 L642.69,167.16 L642.85,183.55 L643.10,170.21 L643.36,157.40 L643.61,145.15 L643.87,133.51 L644.12,122.50 L644.38,112.18 L644.64,102.61 L644.89,93.86 L645.15,86.06 L645.40,79.35 L645.66,74.04 L645.91,70.97 L646.08,73.50 L646.25,77.88 L646.42,83.42 L646.59,89.86 L646.76,97.07 L646.93,104.97 L647.10,113.48 L647.27,122.56 L647.45,132.17 L647.62,142.27 L647.79,152.84 L647.96,163.84 L648.25,151.26 L648.53,139.18 L648.82,127.64 L649.11,116.66 L649.40,106.28 L649.69,96.54 L649.98,87.52 L650.27,79.27 L650.56,71.91 L650.85,65.59 L651.13,60.58 L651.42,57.69 L651.61,60.87 L651.79,66.37 L651.97,73.32 L652.15,81.41 L652.34,90.47 L652.52,100.39 L652.70,111.09 L652.88,122.49 L653.07,134.56 L653.25,147.25 L653.43,160.53 L653.61,174.36 L653.68,170.67 L653.74,167.14 L653.81,163.76 L653.88,160.54 L653.94,157.51 L654.01,154.66 L654.07,152.02 L654.14,149.60 L654.20,147.45 L654.27,145.60 L654.33,144.13 L654.40,143.28"/></defs>
<use href="#c0" fill="none" stroke="#ffa500" stroke-width="2.6" stroke-opacity="0.3" stroke-linejoin="round"/>
<use href="#c0" fill="none" stroke="#ffa500" stroke-width="1.9" stroke-linejoin="round"/>
<rect x="54.2" y="21.3" width="628.8" height="184.0" fill="none" stroke="#4a4a4a" stroke-width="1.3"/>
<line x1="82.30" y1="205.3" x2="82.30" y2="209.70" stroke="#383838" stroke-width="1.1"/>
<text x="82.30" y="224.10" font-size="12.6" letter-spacing="-0.5" text-anchor="middle">0</text>
<line x1="153.80" y1="205.3" x2="153.80" y2="209.70" stroke="#383838" stroke-width="1.1"/>
<text x="153.80" y="224.10" font-size="12.6" letter-spacing="-0.5" text-anchor="middle">1000</text>
<line x1="225.30" y1="205.3" x2="225.30" y2="209.70" stroke="#383838" stroke-width="1.1"/>
<text x="225.30" y="224.10" font-size="12.6" letter-spacing="-0.5" text-anchor="middle">2000</text>
<line x1="296.80" y1="205.3" x2="296.80" y2="209.70" stroke="#383838" stroke-width="1.1"/>
<text x="296.80" y="224.10" font-size="12.6" letter-spacing="-0.5" text-anchor="middle">3000</text>
<line x1="368.30" y1="205.3" x2="368.30" y2="209.70" stroke="#383838" stroke-width="1.1"/>
<text x="368.30" y="224.10" font-size="12.6" letter-spacing="-0.5" text-anchor="middle">4000</text>
<line x1="439.80" y1="205.3" x2="439.80" y2="209.70" stroke="#383838" stroke-width="1.1"/>
<text x="439.80" y="224.10" font-size="12.6" letter-spacing="-0.5" text-anchor="middle">5000</text>
<line x1="511.30" y1="205.3" x2="511.30" y2="209.70" stroke="#383838" stroke-width="1.1"/>
<text x="511.30" y="224.10" font-size="12.6" letter-spacing="-0.5" text-anchor="middle">6000</text>
<line x1="582.80" y1="205.3" x2="582.80" y2="209.70" stroke="#383838" stroke-width="1.1"/>
<text x="582.80" y="224.10" font-size="12.6" letter-spacing="-0.5" text-anchor="middle">7000</text>
<line x1="654.30" y1="205.3" x2="654.30" y2="209.70" stroke="#383838" stroke-width="1.1"/>
<text x="654.30" y="224.10" font-size="12.6" letter-spacing="-0.5" text-anchor="middle">8000</text>
<text x="367.6" y="241.10" font-size="12.6" text-anchor="middle">Time</text>
<line x1="49.80" y1="44.6" x2="54.2" y2="44.6" stroke="#383838" stroke-width="1.1"/>
<text x="43.60" y="49.90" font-size="12.6" letter-spacing="-0.5" text-anchor="end">−10</text>
<line x1="49.80" y1="88.6" x2="54.2" y2="88.6" stroke="#383838" stroke-width="1.1"/>
<text x="43.60" y="93.90" font-size="12.6" letter-spacing="-0.5" text-anchor="end">−20</text>
<line x1="49.80" y1="133.6" x2="54.2" y2="133.6" stroke="#383838" stroke-width="1.1"/>
<text x="43.60" y="138.90" font-size="12.6" letter-spacing="-0.5" text-anchor="end">−30</text>
<line x1="49.80" y1="178.3" x2="54.2" y2="178.3" stroke="#383838" stroke-width="1.1"/>
<text x="43.60" y="183.60" font-size="12.6" letter-spacing="-0.5" text-anchor="end">−40</text>
<text transform="translate(10.4,113.90) rotate(-90)" font-size="12.35" text-anchor="middle">Lx Sequence</text>
<defs><path id="c1" d="M82.30,312.26 L82.40,311.96 L82.51,311.15 L82.61,309.85 L82.72,308.09 L82.82,305.89 L82.93,303.25 L83.03,300.18 L83.13,296.69 L83.24,292.79 L83.34,288.47 L83.45,283.75 L83.55,278.62 L83.65,273.10 L83.76,267.18 L83.92,274.23 L84.07,280.80 L84.23,286.91 L84.38,292.53 L84.54,297.67 L84.70,302.32 L84.85,306.47 L85.01,310.12 L85.17,313.26 L85.32,315.89 L85.48,317.98 L85.64,319.52 L85.79,320.50 L85.95,320.85 L86.17,320.46 L86.39,319.41 L86.61,317.73 L86.82,315.45 L87.04,312.60 L87.26,309.19 L87.48,305.22 L87.70,300.70 L87.92,295.65 L88.14,290.06 L88.36,283.95 L88.58,277.32 L88.80,270.17 L89.01,262.51 L89.21,271.17 L89.41,279.25 L89.61,286.74 L89.81,293.65 L90.01,299.96 L90.20,305.67 L90.40,310.78 L90.60,315.26 L90.80,319.12 L91.00,322.34 L91.19,324.91 L91.39,326.81 L91.59,328.01 L91.79,328.44 L92.06,327.93 L92.33,326.54 L92.60,324.34 L92.87,321.36 L93.14,317.61 L93.42,313.13 L93.69,307.92 L93.96,301.99 L94.23,295.36 L94.50,288.03 L94.77,280.00 L95.04,271.30 L95.31,261.91 L95.58,251.85 L95.72,259.54 L95.87,266.98 L96.01,274.16 L96.15,281.08 L96.29,287.74 L96.43,294.15 L96.57,300.29 L96.71,306.18 L96.85,311.81 L96.99,317.19 L97.13,322.30 L97.27,327.16 L97.41,331.76 L97.55,336.10 L97.73,339.14 L97.90,342.36 L98.07,345.76 L98.24,349.34 L98.42,353.10 L98.59,357.05 L98.76,361.17 L98.93,365.47 L99.10,369.96 L99.28,374.62 L99.45,379.47 L99.62,384.49 L99.79,389.70 L99.96,395.09 L100.13,388.67 L100.30,382.68 L100.46,377.13 L100.63,372.01 L100.80,367.33 L100.96,363.10 L101.13,359.32 L101.30,356.00 L101.47,353.14 L101.63,350.75 L101.80,348.85 L101.97,347.44 L102.13,346.55 L102.30,346.23 L102.51,346.58 L102.72,347.52 L102.92,349.03 L103.13,351.06 L103.34,353.61 L103.55,356.67 L103.76,360.22 L103.97,364.26 L104.18,368.78 L104.38,373.78 L104.59,379.25 L104.80,385.19 L105.01,391.59 L105.22,398.44 L105.41,390.91 L105.59,383.89 L105.78,377.37 L105.97,371.37 L106.16,365.88 L106.35,360.91 L106.53,356.48 L106.72,352.58 L106.91,349.22 L107.10,346.42 L107.28,344.19 L107.47,342.54 L107.66,341.50 L107.85,341.12 L108.04,341.54 L108.24,342.70 L108.44,344.53 L108.64,347.00 L108.84,350.11 L109.04,353.83 L109.23,358.16 L109.43,363.08 L109.63,368.59 L109.83,374.68 L110.03,381.34 L110.22,388.57 L110.42,396.37 L110.62,404.72 L110.81,391.06 L111.00,379.19 L111.19,368.96 L111.37,360.25 L111.56,352.92 L111.75,346.82 L111.94,341.82 L112.13,337.79 L112.32,334.58 L112.50,332.06 L112.69,330.09 L112.88,328.53 L113.07,327.25 L113.26,326.10 L113.51,325.07 L113.76,323.92 L114.01,322.52 L114.26,320.75 L114.51,318.48 L114.75,315.60 L115.00,311.98 L115.25,307.49 L115.50,302.02 L115.75,295.43 L116.00,287.61 L116.25,278.43 L116.50,267.77 L116.75,255.50 L116.91,262.86 L117.06,269.97 L117.22,276.84 L117.37,283.46 L117.53,289.84 L117.68,295.96 L117.84,301.84 L117.99,307.48 L118.15,312.87 L118.30,318.01 L118.46,322.90 L118.61,327.55 L118.76,331.95 L118.92,336.10 L119.11,339.40 L119.30,342.90 L119.49,346.60 L119.68,350.49 L119.87,354.58 L120.06,358.86 L120.24,363.34 L120.43,368.02 L120.62,372.89 L120.81,377.96 L121.00,383.22 L121.19,388.68 L121.38,394.34 L121.57,400.19 L121.79,392.01 L122.01,384.38 L122.23,377.30 L122.45,370.77 L122.66,364.81 L122.88,359.42 L123.10,354.60 L123.32,350.36 L123.54,346.71 L123.76,343.67 L123.98,341.24 L124.20,339.45 L124.42,338.32 L124.64,337.91 L124.86,338.38 L125.09,339.66 L125.32,341.70 L125.55,344.45 L125.78,347.91 L126.01,352.05 L126.24,356.87 L126.47,362.34 L126.70,368.47 L126.93,375.24 L127.16,382.65 L127.39,390.70 L127.62,399.37 L127.85,408.66 L128.01,401.12 L128.18,393.83 L128.34,386.80 L128.50,380.02 L128.67,373.49 L128.83,367.21 L129.00,361.19 L129.16,355.42 L129.32,349.90 L129.49,344.63 L129.65,339.62 L129.82,334.86 L129.98,330.35 L130.15,326.10 L130.35,322.89 L130.55,319.49 L130.75,315.90 L130.95,312.12 L131.15,308.15 L131.35,303.98 L131.55,299.63 L131.75,295.09 L131.95,290.35 L132.15,285.43 L132.35,280.31 L132.55,275.00 L132.76,269.51 L132.96,263.82 L133.12,272.08 L133.29,279.78 L133.46,286.93 L133.62,293.52 L133.79,299.53 L133.96,304.98 L134.12,309.85 L134.29,314.12 L134.46,317.80 L134.62,320.87 L134.79,323.32 L134.96,325.13 L135.13,326.27 L135.29,326.69 L135.53,326.22 L135.77,324.92 L136.01,322.85 L136.25,320.06 L136.49,316.56 L136.73,312.37 L136.97,307.50 L137.21,301.96 L137.45,295.75 L137.69,288.89 L137.93,281.39 L138.17,273.25 L138.41,264.47 L138.65,255.06 L138.81,262.46 L138.98,269.61 L139.14,276.52 L139.31,283.18 L139.47,289.59 L139.64,295.75 L139.80,301.66 L139.96,307.32 L140.13,312.74 L140.29,317.91 L140.46,322.83 L140.62,327.50 L140.78,331.92 L140.95,336.10 L141.15,339.35 L141.35,342.79 L141.55,346.43 L141.75,350.26 L141.95,354.28 L142.15,358.50 L142.35,362.91 L142.55,367.51 L142.76,372.30 L142.96,377.29 L143.16,382.47 L143.36,387.85 L143.56,393.41 L143.76,399.17 L143.95,391.45 L144.13,384.25 L144.32,377.56 L144.51,371.41 L144.70,365.78 L144.89,360.69 L145.07,356.14 L145.26,352.14 L145.45,348.70 L145.64,345.83 L145.82,343.54 L146.01,341.85 L146.20,340.78 L146.39,340.39 L146.60,340.82 L146.80,342.00 L147.01,343.87 L147.22,346.41 L147.43,349.59 L147.64,353.40 L147.85,357.82 L148.06,362.86 L148.26,368.49 L148.47,374.72 L148.68,381.53 L148.89,388.93 L149.10,396.91 L149.31,405.45 L149.48,391.66 L149.66,379.68 L149.83,369.36 L150.01,360.57 L150.18,353.17 L150.36,347.01 L150.53,341.97 L150.71,337.90 L150.88,334.66 L151.06,332.11 L151.23,330.13 L151.41,328.55 L151.58,327.26 L151.75,326.10 L151.99,325.12 L152.22,324.02 L152.45,322.69 L152.68,321.00 L152.91,318.85 L153.15,316.10 L153.38,312.65 L153.61,308.38 L153.84,303.16 L154.07,296.89 L154.30,289.44 L154.54,280.70 L154.77,270.54 L155.00,258.86 L155.20,267.91 L155.40,276.32 L155.59,284.10 L155.79,291.29 L155.99,297.90 L156.19,303.95 L156.39,309.47 L156.58,314.49 L156.78,319.04 L156.98,323.16 L157.18,326.87 L157.38,330.22 L157.58,333.27 L157.77,336.10 L157.97,338.64 L158.17,341.38 L158.37,344.39 L158.57,347.72 L158.76,351.41 L158.96,355.50 L159.16,360.01 L159.36,364.97 L159.56,370.40 L159.75,376.33 L159.95,382.78 L160.15,389.77 L160.35,397.32 L160.55,405.45 L160.72,392.17 L160.90,380.58 L161.07,370.55 L161.25,361.96 L161.42,354.66 L161.60,348.54 L161.77,343.46 L161.95,339.29 L162.12,335.90 L162.30,333.16 L162.47,330.94 L162.65,329.11 L162.82,327.54 L163.00,326.10 L163.23,324.88 L163.46,323.55 L163.69,321.99 L163.92,320.11 L164.15,317.78 L164.39,314.90 L164.62,311.36 L164.85,307.04 L165.08,301.84 L165.31,295.65 L165.55,288.35 L165.78,279.83 L166.01,269.99 L166.24,258.71 L166.43,267.78 L166.62,276.20 L166.80,284.01 L166.99,291.20 L167.18,297.82 L167.37,303.89 L167.55,309.42 L167.74,314.45 L167.93,319.01 L168.12,323.13 L168.31,326.85 L168.49,330.21 L168.68,333.27 L168.87,336.10 L169.06,338.62 L169.24,341.35 L169.43,344.34 L169.62,347.65 L169.81,351.32 L169.99,355.38 L170.18,359.86 L170.37,364.78 L170.56,370.18 L170.75,376.08 L170.93,382.49 L171.12,389.43 L171.31,396.94 L171.50,405.01 L171.68,391.81 L171.86,380.28 L172.04,370.31 L172.23,361.76 L172.41,354.51 L172.59,348.42 L172.78,343.36 L172.96,339.21 L173.14,335.84 L173.32,333.12 L173.51,330.91 L173.69,329.09 L173.87,327.53 L174.05,326.10 L174.30,324.86 L174.54,323.51 L174.78,321.93 L175.02,320.02 L175.27,317.65 L175.51,314.73 L175.75,311.13 L175.99,306.75 L176.23,301.47 L176.48,295.19 L176.72,287.77 L176.96,279.13 L177.20,269.14 L177.45,257.69 L177.63,266.88 L177.82,275.41 L178.01,283.32 L178.20,290.61 L178.38,297.32 L178.57,303.46 L178.76,309.07 L178.95,314.17 L179.13,318.79 L179.32,322.96 L179.51,326.73 L179.70,330.13 L179.89,333.23 L180.07,336.10 L180.26,338.58 L180.45,341.27 L180.64,344.22 L180.82,347.48 L181.01,351.09 L181.20,355.09 L181.39,359.50 L181.57,364.36 L181.76,369.68 L181.95,375.48 L182.14,381.80 L182.33,388.64 L182.51,396.03 L182.70,403.99 L182.90,390.95 L183.10,379.58 L183.29,369.74 L183.49,361.30 L183.69,354.14 L183.88,348.13 L184.08,343.14 L184.28,339.04 L184.48,335.72 L184.67,333.03 L184.87,330.85 L185.07,329.05 L185.27,327.51 L185.46,326.10 L185.72,324.78 L185.99,323.34 L186.25,321.66 L186.51,319.63 L186.77,317.11 L187.03,314.00 L187.29,310.18 L187.55,305.51 L187.82,299.90 L188.08,293.21 L188.34,285.32 L188.60,276.12 L188.86,265.49 L189.12,253.31 L189.27,260.87 L189.42,268.18 L189.57,275.23 L189.72,282.03 L189.87,288.58 L190.03,294.87 L190.18,300.91 L190.33,306.70 L190.48,312.23 L190.63,317.51 L190.78,322.54 L190.93,327.31 L191.08,331.83 L191.23,336.10 L191.41,339.22 L191.59,342.53 L191.78,346.02 L191.96,349.70 L192.14,353.57 L192.33,357.62 L192.51,361.85 L192.69,366.27 L192.88,370.88 L193.06,375.67 L193.25,380.65 L193.43,385.81 L193.61,391.16 L193.80,396.69 L193.97,389.81 L194.15,383.40 L194.33,377.44 L194.50,371.96 L194.68,366.95 L194.86,362.41 L195.04,358.36 L195.21,354.80 L195.39,351.73 L195.57,349.18 L195.75,347.14 L195.92,345.63 L196.10,344.68 L196.28,344.33 L196.48,344.71 L196.67,345.73 L196.87,347.36 L197.07,349.57 L197.27,352.33 L197.47,355.64 L197.66,359.49 L197.86,363.87 L198.06,368.78 L198.26,374.19 L198.46,380.12 L198.65,386.56 L198.85,393.49 L199.05,400.92 L199.25,392.40 L199.45,384.44 L199.65,377.06 L199.84,370.26 L200.04,364.05 L200.24,358.43 L200.44,353.40 L200.64,348.99 L200.83,345.19 L201.03,342.02 L201.23,339.49 L201.43,337.62 L201.63,336.44 L201.82,336.01 L202.09,336.52 L202.35,337.90 L202.61,340.10 L202.87,343.07 L203.13,346.80 L203.39,351.26 L203.65,356.45 L203.91,362.36 L204.17,368.97 L204.43,376.27 L204.69,384.26 L204.95,392.94 L205.21,402.29 L205.47,412.31 L205.63,404.44 L205.79,396.83 L205.95,389.48 L206.11,382.40 L206.27,375.58 L206.43,369.03 L206.59,362.74 L206.75,356.71 L206.91,350.95 L207.07,345.45 L207.23,340.22 L207.39,335.25 L207.55,330.54 L207.71,326.10 L207.90,323.19 L208.10,320.11 L208.29,316.86 L208.49,313.43 L208.68,309.83 L208.88,306.06 L209.07,302.11 L209.27,297.99 L209.46,293.70 L209.66,289.24 L209.85,284.60 L210.05,279.80 L210.24,274.81 L210.44,269.66 L210.60,276.00 L210.77,281.92 L210.94,287.40 L211.11,292.46 L211.27,297.08 L211.44,301.26 L211.61,305.00 L211.77,308.28 L211.94,311.11 L212.11,313.47 L212.27,315.35 L212.44,316.74 L212.61,317.61 L212.77,317.93 L212.96,317.59 L213.15,316.64 L213.34,315.15 L213.52,313.13 L213.71,310.59 L213.90,307.55 L214.09,304.02 L214.28,300.00 L214.46,295.50 L214.65,290.53 L214.84,285.10 L215.03,279.19 L215.21,272.83 L215.40,266.01 L215.57,273.50 L215.74,280.49 L215.90,286.97 L216.07,292.95 L216.24,298.41 L216.40,303.35 L216.57,307.76 L216.74,311.64 L216.90,314.98 L217.07,317.76 L217.24,319.99 L217.40,321.63 L217.57,322.66 L217.74,323.04 L217.97,322.62 L218.20,321.48 L218.43,319.66 L218.65,317.20 L218.88,314.11 L219.11,310.41 L219.34,306.12 L219.57,301.23 L219.80,295.76 L220.03,289.71 L220.26,283.10 L220.49,275.91 L220.72,268.17 L220.95,259.88 L221.18,273.12 L221.42,284.63 L221.65,294.54 L221.89,302.99 L222.12,310.10 L222.36,316.01 L222.59,320.86 L222.83,324.77 L223.07,327.88 L223.30,330.32 L223.54,332.23 L223.77,333.74 L224.01,334.99 L224.24,336.10 L224.43,337.16 L224.63,338.36 L224.82,339.80 L225.01,341.63 L225.20,343.97 L225.40,346.95 L225.59,350.70 L225.78,355.34 L225.97,361.00 L226.16,367.81 L226.36,375.90 L226.55,385.39 L226.74,396.42 L226.93,409.10 L227.09,401.52 L227.24,394.19 L227.40,387.12 L227.55,380.30 L227.71,373.74 L227.86,367.43 L228.02,361.38 L228.17,355.57 L228.33,350.03 L228.48,344.73 L228.64,339.69 L228.79,334.91 L228.95,330.38 L229.10,326.10 L229.29,322.99 L229.48,319.69 L229.67,316.21 L229.86,312.54 L230.05,308.69 L230.24,304.66 L230.43,300.44 L230.62,296.03 L230.81,291.44 L230.99,286.67 L231.18,281.71 L231.37,276.56 L231.56,271.23 L231.75,265.72 L231.94,273.34 L232.13,280.46 L232.31,287.06 L232.50,293.14 L232.69,298.70 L232.88,303.72 L233.07,308.22 L233.25,312.17 L233.44,315.56 L233.63,318.40 L233.82,320.66 L234.00,322.33 L234.19,323.39 L234.38,323.77 L234.60,323.34 L234.82,322.17 L235.04,320.31 L235.26,317.79 L235.47,314.63 L235.69,310.85 L235.91,306.46 L236.13,301.46 L236.35,295.86 L236.57,289.67 L236.79,282.90 L237.01,275.56 L237.23,267.64 L237.45,259.15 L237.66,272.52 L237.88,284.14 L238.10,294.15 L238.32,302.67 L238.53,309.85 L238.75,315.82 L238.97,320.71 L239.19,324.66 L239.41,327.80 L239.62,330.27 L239.84,332.20 L240.06,333.72 L240.28,334.98 L240.50,336.10 L240.67,337.13 L240.85,338.27 L241.03,339.67 L241.21,341.43 L241.39,343.69 L241.57,346.56 L241.74,350.17 L241.92,354.65 L242.10,360.10 L242.28,366.67 L242.46,374.47 L242.64,383.62 L242.81,394.24 L242.99,406.47 L243.16,393.02 L243.33,381.28 L243.50,371.13 L243.67,362.42 L243.84,355.03 L244.02,348.83 L244.19,343.68 L244.36,339.46 L244.53,336.02 L244.70,333.25 L244.87,331.00 L245.04,329.15 L245.21,327.56 L245.38,326.10 L245.60,324.90 L245.83,323.59 L246.06,322.06 L246.28,320.21 L246.51,317.92 L246.73,315.10 L246.96,311.61 L247.18,307.37 L247.41,302.26 L247.64,296.17 L247.86,289.00 L248.09,280.63 L248.31,270.96 L248.54,259.88 L248.75,268.81 L248.96,277.11 L249.17,284.79 L249.37,291.88 L249.58,298.40 L249.79,304.37 L250.00,309.82 L250.21,314.78 L250.42,319.27 L250.63,323.33 L250.83,326.99 L251.04,330.30 L251.25,333.31 L251.46,336.10 L251.67,338.78 L251.88,341.68 L252.09,344.86 L252.29,348.38 L252.50,352.28 L252.71,356.60 L252.92,361.37 L253.13,366.61 L253.34,372.35 L253.55,378.62 L253.75,385.44 L253.96,392.82 L254.17,400.80 L254.38,409.39 L254.55,401.79 L254.72,394.43 L254.89,387.34 L255.06,380.49 L255.22,373.91 L255.39,367.58 L255.56,361.50 L255.73,355.68 L255.90,350.11 L256.07,344.80 L256.24,339.74 L256.41,334.94 L256.58,330.39 L256.74,326.10 L256.95,322.99 L257.16,319.69 L257.36,316.21 L257.57,312.54 L257.78,308.69 L257.98,304.66 L258.19,300.44 L258.40,296.03 L258.60,291.44 L258.81,286.67 L259.02,281.71 L259.22,276.56 L259.43,271.23 L259.64,265.72 L259.81,273.30 L259.99,280.38 L260.17,286.95 L260.34,293.00 L260.52,298.53 L260.70,303.53 L260.88,308.00 L261.05,311.93 L261.23,315.31 L261.41,318.13 L261.58,320.39 L261.76,322.05 L261.94,323.10 L262.12,323.48 L262.34,323.05 L262.55,321.89 L262.77,320.05 L262.99,317.55 L263.21,314.43 L263.43,310.68 L263.65,306.32 L263.87,301.37 L264.09,295.82 L264.31,289.69 L264.53,282.98 L264.74,275.70 L264.96,267.85 L265.18,259.44 L265.39,272.76 L265.60,284.34 L265.81,294.31 L266.03,302.80 L266.24,309.95 L266.45,315.90 L266.66,320.77 L266.87,324.70 L267.08,327.83 L267.29,330.29 L267.50,332.21 L267.71,333.73 L267.92,334.98 L268.13,336.10 L268.31,337.14 L268.48,338.30 L268.65,339.71 L268.82,341.49 L269.00,343.77 L269.17,346.67 L269.34,350.32 L269.51,354.84 L269.69,360.35 L269.86,366.99 L270.03,374.86 L270.20,384.11 L270.38,394.85 L270.55,407.20 L270.73,393.63 L270.91,381.78 L271.09,371.54 L271.26,362.75 L271.44,355.29 L271.62,349.04 L271.80,343.84 L271.98,339.58 L272.16,336.11 L272.34,333.31 L272.52,331.04 L272.70,329.17 L272.88,327.57 L273.06,326.10 L273.30,324.93 L273.53,323.65 L273.77,322.15 L274.01,320.34 L274.25,318.11 L274.48,315.34 L274.72,311.93 L274.96,307.79 L275.20,302.79 L275.44,296.83 L275.67,289.82 L275.91,281.64 L276.15,272.18 L276.39,261.34 L276.62,273.74 L276.85,284.52 L277.08,293.79 L277.30,301.70 L277.53,308.36 L277.76,313.89 L277.99,318.43 L278.22,322.09 L278.45,325.00 L278.68,327.29 L278.91,329.08 L279.14,330.50 L279.37,331.66 L279.60,332.70 L279.84,333.89 L280.08,335.22 L280.32,336.84 L280.56,338.88 L280.80,341.49 L281.04,344.82 L281.28,349.00 L281.52,354.18 L281.76,360.50 L282.00,368.11 L282.24,377.14 L282.48,387.74 L282.72,400.05 L282.96,414.21 L283.10,406.16 L283.24,398.39 L283.38,390.88 L283.52,383.64 L283.66,376.67 L283.80,369.97 L283.94,363.55 L284.08,357.39 L284.22,351.50 L284.36,345.88 L284.50,340.53 L284.65,335.45 L284.79,330.64 L284.93,326.10 L285.10,323.33 L285.27,320.39 L285.44,317.29 L285.62,314.02 L285.79,310.59 L285.96,306.99 L286.13,303.23 L286.30,299.30 L286.48,295.21 L286.65,290.96 L286.82,286.54 L286.99,281.95 L287.16,277.20 L287.34,272.29 L287.49,277.75 L287.65,282.84 L287.81,287.56 L287.96,291.92 L288.12,295.89 L288.27,299.49 L288.43,302.71 L288.59,305.54 L288.74,307.97 L288.90,310.00 L289.06,311.62 L289.21,312.81 L289.37,313.57 L289.53,313.84 L289.72,313.55 L289.92,312.76 L290.12,311.50 L290.32,309.80 L290.52,307.66 L290.71,305.10 L290.91,302.12 L291.11,298.74 L291.31,294.95 L291.51,290.76 L291.70,286.18 L291.90,281.20 L292.10,275.84 L292.30,270.10 L292.48,276.28 L292.65,282.06 L292.83,287.41 L293.01,292.35 L293.19,296.86 L293.36,300.94 L293.54,304.58 L293.72,307.79 L293.89,310.54 L294.07,312.84 L294.25,314.68 L294.43,316.03 L294.60,316.89 L294.78,317.20 L294.97,316.87 L295.16,315.94 L295.34,314.48 L295.53,312.51 L295.72,310.03 L295.91,307.06 L296.09,303.60 L296.28,299.68 L296.47,295.28 L296.66,290.42 L296.85,285.10 L297.03,279.33 L297.22,273.11 L297.41,266.45 L297.58,273.75 L297.74,280.56 L297.91,286.87 L298.08,292.70 L298.24,298.02 L298.41,302.83 L298.58,307.13 L298.74,310.91 L298.91,314.16 L299.08,316.88 L299.24,319.04 L299.41,320.64 L299.58,321.65 L299.74,322.02 L299.97,321.62 L300.20,320.52 L300.43,318.77 L300.66,316.40 L300.89,313.44 L301.12,309.89 L301.35,305.76 L301.58,301.06 L301.81,295.81 L302.04,290.00 L302.27,283.64 L302.50,276.74 L302.73,269.31 L302.96,261.34 L303.22,274.33 L303.48,285.62 L303.75,295.34 L304.01,303.62 L304.28,310.60 L304.54,316.40 L304.80,321.15 L305.07,324.98 L305.33,328.04 L305.59,330.43 L305.86,332.31 L306.12,333.79 L306.39,335.01 L306.65,336.10 L306.87,337.24 L307.08,338.52 L307.30,340.08 L307.51,342.04 L307.73,344.56 L307.94,347.76 L308.16,351.78 L308.38,356.76 L308.59,362.84 L308.81,370.16 L309.02,378.84 L309.24,389.04 L309.46,400.88 L309.67,414.50 L309.82,406.43 L309.96,398.63 L310.11,391.09 L310.25,383.83 L310.40,376.84 L310.54,370.12 L310.69,363.67 L310.84,357.49 L310.98,351.58 L311.13,345.95 L311.27,340.58 L311.42,335.48 L311.56,330.66 L311.71,326.10 L311.89,323.35 L312.06,320.44 L312.24,317.36 L312.42,314.12 L312.60,310.71 L312.77,307.15 L312.95,303.42 L313.13,299.52 L313.31,295.46 L313.49,291.24 L313.66,286.86 L313.84,282.31 L314.02,277.60 L314.20,272.72 L314.35,278.05 L314.51,283.02 L314.67,287.63 L314.82,291.87 L314.98,295.75 L315.14,299.26 L315.29,302.40 L315.45,305.16 L315.60,307.53 L315.76,309.51 L315.92,311.09 L316.07,312.26 L316.23,312.99 L316.39,313.26 L316.58,312.98 L316.78,312.20 L316.98,310.97 L317.18,309.31 L317.38,307.22 L317.58,304.72 L317.77,301.81 L317.97,298.51 L318.17,294.81 L318.37,290.72 L318.57,286.24 L318.76,281.38 L318.96,276.15 L319.16,270.54 L319.34,276.51 L319.52,282.09 L319.69,287.26 L319.87,292.03 L320.05,296.38 L320.22,300.32 L320.40,303.84 L320.58,306.94 L320.76,309.60 L320.93,311.82 L321.11,313.60 L321.29,314.91 L321.47,315.73 L321.64,316.03 L321.83,315.71 L322.02,314.83 L322.21,313.43 L322.39,311.54 L322.58,309.17 L322.77,306.33 L322.96,303.02 L323.14,299.26 L323.33,295.06 L323.52,290.41 L323.71,285.32 L323.89,279.80 L324.08,273.85 L324.27,267.47 L324.45,274.44 L324.62,280.95 L324.80,286.98 L324.98,292.55 L325.16,297.63 L325.33,302.23 L325.51,306.33 L325.69,309.95 L325.87,313.05 L326.04,315.65 L326.22,317.72 L326.40,319.24 L326.57,320.21 L326.75,320.56 L326.94,320.18 L327.13,319.13 L327.31,317.47 L327.50,315.22 L327.69,312.39 L327.88,309.01 L328.07,305.08 L328.25,300.61 L328.44,295.61 L328.63,290.08 L328.82,284.03 L329.00,277.46 L329.19,270.38 L329.38,262.80 L329.57,271.48 L329.75,279.58 L329.94,287.09 L330.13,294.01 L330.32,300.34 L330.51,306.06 L330.69,311.17 L330.88,315.67 L331.07,319.54 L331.26,322.77 L331.44,325.34 L331.63,327.24 L331.82,328.44 L332.01,328.88 L332.28,328.37 L332.55,326.96 L332.82,324.73 L333.09,321.71 L333.36,317.93 L333.63,313.39 L333.91,308.12 L334.18,302.13 L334.45,295.42 L334.72,288.00 L334.99,279.89 L335.26,271.08 L335.53,261.59 L335.80,251.41 L335.95,259.15 L336.10,266.62 L336.25,273.84 L336.40,280.79 L336.55,287.49 L336.70,293.93 L336.85,300.11 L337.00,306.03 L337.15,311.69 L337.30,317.09 L337.45,322.23 L337.60,327.11 L337.75,331.74 L337.91,336.10 L338.09,339.09 L338.27,342.25 L338.46,345.59 L338.64,349.11 L338.82,352.81 L339.01,356.68 L339.19,360.73 L339.37,364.96 L339.56,369.37 L339.74,373.95 L339.92,378.72 L340.11,383.65 L340.29,388.77 L340.47,394.06 L340.63,388.11 L340.79,382.55 L340.94,377.39 L341.10,372.64 L341.26,368.30 L341.41,364.37 L341.57,360.86 L341.73,357.78 L341.88,355.12 L342.04,352.91 L342.19,351.14 L342.35,349.83 L342.51,349.01 L342.66,348.71 L342.85,349.03 L343.04,349.90 L343.23,351.28 L343.42,353.15 L343.60,355.49 L343.79,358.30 L343.98,361.57 L344.17,365.28 L344.35,369.43 L344.54,374.03 L344.73,379.05 L344.92,384.51 L345.10,390.39 L345.29,396.69 L345.49,389.74 L345.69,383.25 L345.89,377.23 L346.08,371.68 L346.28,366.62 L346.48,362.03 L346.68,357.93 L346.88,354.33 L347.08,351.23 L347.27,348.65 L347.47,346.58 L347.67,345.06 L347.87,344.10 L348.07,343.75 L348.26,344.13 L348.46,345.18 L348.66,346.85 L348.86,349.10 L349.06,351.93 L349.25,355.32 L349.45,359.26 L349.65,363.74 L349.85,368.76 L350.05,374.30 L350.25,380.37 L350.44,386.95 L350.64,394.05 L350.84,401.65 L351.06,392.98 L351.28,384.88 L351.50,377.36 L351.72,370.44 L351.93,364.12 L352.15,358.39 L352.37,353.28 L352.59,348.78 L352.81,344.91 L353.03,341.69 L353.25,339.11 L353.47,337.21 L353.69,336.01 L353.91,335.57 L354.16,336.09 L354.41,337.52 L354.66,339.78 L354.91,342.85 L355.16,346.69 L355.41,351.29 L355.66,356.64 L355.91,362.73 L356.16,369.54 L356.41,377.07 L356.66,385.30 L356.91,394.24 L357.16,403.88 L357.41,414.21 L357.57,406.16 L357.73,398.39 L357.88,390.88 L358.04,383.64 L358.20,376.67 L358.36,369.97 L358.52,363.55 L358.68,357.39 L358.83,351.50 L358.99,345.88 L359.15,340.53 L359.31,335.45 L359.47,330.64 L359.63,326.10 L359.82,323.33 L360.01,320.39 L360.21,317.29 L360.40,314.02 L360.59,310.59 L360.79,306.99 L360.98,303.23 L361.17,299.30 L361.37,295.21 L361.56,290.96 L361.76,286.54 L361.95,281.95 L362.14,277.20 L362.34,272.29 L362.49,277.71 L362.65,282.76 L362.81,287.46 L362.96,291.78 L363.12,295.73 L363.27,299.30 L363.43,302.50 L363.59,305.30 L363.74,307.72 L363.90,309.73 L364.06,311.34 L364.21,312.53 L364.37,313.28 L364.53,313.55 L364.71,313.26 L364.90,312.47 L365.09,311.21 L365.28,309.50 L365.46,307.37 L365.65,304.81 L365.84,301.83 L366.03,298.45 L366.21,294.66 L366.40,290.47 L366.59,285.89 L366.78,280.91 L366.97,275.55 L367.15,269.81 L367.33,276.03 L367.51,281.84 L367.69,287.23 L367.86,292.19 L368.04,296.73 L368.22,300.83 L368.39,304.50 L368.57,307.73 L368.75,310.50 L368.93,312.82 L369.10,314.66 L369.28,316.03 L369.46,316.89 L369.64,317.20 L369.81,316.87 L369.99,315.95 L370.17,314.50 L370.34,312.53 L370.52,310.07 L370.70,307.11 L370.88,303.68 L371.05,299.78 L371.23,295.41 L371.41,290.57 L371.58,285.29 L371.76,279.55 L371.94,273.37 L372.12,266.74 L372.28,273.98 L372.45,280.74 L372.62,287.01 L372.78,292.78 L372.95,298.06 L373.12,302.83 L373.28,307.10 L373.45,310.85 L373.62,314.08 L373.79,316.77 L373.95,318.92 L374.12,320.51 L374.29,321.51 L374.45,321.87 L374.67,321.47 L374.89,320.36 L375.11,318.61 L375.33,316.23 L375.55,313.25 L375.77,309.68 L375.99,305.54 L376.20,300.82 L376.42,295.54 L376.64,289.70 L376.86,283.31 L377.08,276.38 L377.30,268.91 L377.52,260.90 L377.78,273.97 L378.05,285.32 L378.31,295.10 L378.57,303.43 L378.84,310.45 L379.10,316.28 L379.36,321.06 L379.63,324.92 L379.89,327.99 L380.16,330.40 L380.42,332.29 L380.68,333.78 L380.95,335.00 L381.21,336.10 L381.43,337.23 L381.64,338.49 L381.86,340.03 L382.08,341.97 L382.29,344.45 L382.51,347.61 L382.72,351.58 L382.94,356.49 L383.15,362.49 L383.37,369.71 L383.59,378.29 L383.80,388.35 L384.02,400.03 L384.23,413.48 L384.38,405.50 L384.53,397.79 L384.68,390.34 L384.83,383.16 L384.98,376.25 L385.13,369.61 L385.28,363.24 L385.43,357.13 L385.58,351.29 L385.74,345.72 L385.89,340.41 L386.04,335.37 L386.19,330.60 L386.34,326.10 L386.52,323.27 L386.70,320.27 L386.89,317.10 L387.07,313.76 L387.25,310.25 L387.44,306.58 L387.62,302.73 L387.80,298.72 L387.99,294.54 L388.17,290.19 L388.35,285.68 L388.54,280.99 L388.72,276.14 L388.91,271.12 L389.05,276.88 L389.20,282.26 L389.34,287.25 L389.49,291.85 L389.64,296.05 L389.78,299.85 L389.93,303.25 L390.07,306.24 L390.22,308.81 L390.36,310.95 L390.51,312.66 L390.66,313.92 L390.80,314.72 L390.95,315.01 L391.16,314.70 L391.37,313.85 L391.57,312.50 L391.78,310.68 L391.99,308.39 L392.20,305.65 L392.41,302.47 L392.62,298.85 L392.83,294.79 L393.03,290.31 L393.24,285.41 L393.45,280.08 L393.66,274.35 L393.87,268.20 L394.04,274.87 L394.20,281.09 L394.37,286.86 L394.54,292.17 L394.70,297.03 L394.87,301.43 L395.04,305.35 L395.20,308.81 L395.37,311.78 L395.54,314.26 L395.70,316.24 L395.87,317.70 L396.04,318.62 L396.20,318.95 L396.39,318.59 L396.58,317.59 L396.77,316.01 L396.96,313.87 L397.14,311.18 L397.33,307.96 L397.52,304.22 L397.71,299.97 L397.89,295.20 L398.08,289.94 L398.27,284.18 L398.46,277.93 L398.64,271.19 L398.83,263.97 L399.03,272.07 L399.23,279.63 L399.43,286.65 L399.62,293.11 L399.82,299.02 L400.02,304.36 L400.22,309.14 L400.42,313.33 L400.62,316.95 L400.81,319.96 L401.01,322.36 L401.21,324.14 L401.41,325.26 L401.61,325.67 L401.84,325.21 L402.06,323.94 L402.29,321.93 L402.52,319.22 L402.75,315.81 L402.98,311.73 L403.21,306.98 L403.44,301.59 L403.67,295.55 L403.90,288.87 L404.13,281.57 L404.36,273.64 L404.59,265.10 L404.82,255.94 L404.97,263.26 L405.13,270.33 L405.28,277.16 L405.44,283.75 L405.59,290.09 L405.75,296.18 L405.90,302.03 L406.06,307.63 L406.21,312.99 L406.37,318.10 L406.52,322.97 L406.68,327.59 L406.83,331.97 L406.99,336.10 L407.17,339.45 L407.36,342.99 L407.55,346.74 L407.74,350.69 L407.93,354.83 L408.12,359.17 L408.31,363.71 L408.50,368.45 L408.69,373.39 L408.88,378.53 L409.07,383.87 L409.26,389.40 L409.45,395.14 L409.64,401.07 L409.85,392.62 L410.07,384.74 L410.29,377.42 L410.51,370.68 L410.73,364.53 L410.95,358.95 L411.17,353.98 L411.39,349.60 L411.61,345.83 L411.82,342.69 L412.04,340.19 L412.26,338.33 L412.48,337.17 L412.70,336.74 L412.96,337.24 L413.22,338.59 L413.48,340.75 L413.74,343.66 L414.00,347.32 L414.26,351.70 L414.53,356.79 L414.79,362.58 L415.05,369.07 L415.31,376.23 L415.57,384.07 L415.83,392.58 L416.09,401.75 L416.35,411.58 L416.50,403.78 L416.65,396.23 L416.80,388.95 L416.95,381.92 L417.10,375.16 L417.25,368.67 L417.40,362.43 L417.55,356.45 L417.70,350.74 L417.85,345.29 L418.00,340.10 L418.15,335.17 L418.30,330.50 L418.45,326.10 L418.64,323.14 L418.82,320.00 L419.00,316.69 L419.19,313.20 L419.37,309.54 L419.55,305.69 L419.74,301.68 L419.92,297.49 L420.10,293.12 L420.29,288.57 L420.47,283.85 L420.65,278.96 L420.84,273.89 L421.02,268.64 L421.19,275.17 L421.36,281.26 L421.52,286.92 L421.69,292.13 L421.86,296.89 L422.02,301.20 L422.19,305.04 L422.36,308.43 L422.52,311.34 L422.69,313.77 L422.86,315.71 L423.02,317.14 L423.19,318.04 L423.36,318.37 L423.56,318.01 L423.75,317.04 L423.95,315.49 L424.15,313.39 L424.35,310.76 L424.55,307.61 L424.74,303.95 L424.94,299.78 L425.14,295.12 L425.34,289.97 L425.54,284.33 L425.74,278.21 L425.93,271.62 L426.13,264.55 L426.33,272.42 L426.53,279.77 L426.73,286.59 L426.92,292.87 L427.12,298.61 L427.32,303.80 L427.52,308.44 L427.72,312.52 L427.91,316.03 L428.11,318.95 L428.31,321.29 L428.51,323.02 L428.71,324.10 L428.91,324.50 L429.13,324.06 L429.36,322.85 L429.59,320.92 L429.82,318.32 L430.05,315.06 L430.28,311.14 L430.51,306.60 L430.74,301.43 L430.97,295.64 L431.20,289.25 L431.43,282.25 L431.66,274.65 L431.89,266.46 L432.12,257.69 L432.32,271.31 L432.53,283.15 L432.74,293.35 L432.94,302.04 L433.15,309.35 L433.36,315.43 L433.56,320.42 L433.77,324.44 L433.97,327.64 L434.18,330.16 L434.39,332.12 L434.59,333.68 L434.80,334.96 L435.01,336.10 L435.18,337.09 L435.35,338.20 L435.51,339.54 L435.68,341.25 L435.85,343.42 L436.02,346.19 L436.19,349.68 L436.36,353.99 L436.53,359.26 L436.70,365.59 L436.87,373.11 L437.03,381.94 L437.20,392.19 L437.37,403.99 L437.56,390.95 L437.75,379.58 L437.94,369.74 L438.13,361.30 L438.31,354.14 L438.50,348.13 L438.69,343.14 L438.88,339.04 L439.07,335.72 L439.26,333.03 L439.44,330.85 L439.63,329.05 L439.82,327.51 L440.01,326.10 L440.26,324.77 L440.51,323.33 L440.76,321.65 L441.01,319.60 L441.26,317.08 L441.51,313.95 L441.76,310.11 L442.01,305.43 L442.26,299.79 L442.51,293.07 L442.75,285.16 L443.00,275.92 L443.25,265.25 L443.50,253.02 L443.66,260.60 L443.81,267.94 L443.97,275.02 L444.12,281.84 L444.28,288.41 L444.43,294.73 L444.59,300.79 L444.74,306.60 L444.90,312.15 L445.05,317.45 L445.21,322.49 L445.36,327.28 L445.52,331.82 L445.67,336.10 L445.86,339.22 L446.05,342.53 L446.24,346.02 L446.43,349.70 L446.62,353.57 L446.81,357.62 L447.00,361.85 L447.19,366.27 L447.37,370.88 L447.56,375.67 L447.75,380.65 L447.94,385.81 L448.13,391.16 L448.32,396.69 L448.50,389.78 L448.68,383.32 L448.85,377.34 L449.03,371.82 L449.21,366.78 L449.38,362.22 L449.56,358.15 L449.74,354.56 L449.92,351.48 L450.09,348.91 L450.27,346.86 L450.45,345.34 L450.63,344.39 L450.80,344.04 L451.00,344.42 L451.20,345.46 L451.40,347.11 L451.60,349.34 L451.79,352.14 L451.99,355.50 L452.19,359.40 L452.39,363.83 L452.59,368.80 L452.78,374.29 L452.98,380.29 L453.18,386.81 L453.38,393.83 L453.58,401.36 L453.79,392.78 L453.99,384.77 L454.20,377.34 L454.41,370.49 L454.62,364.24 L454.83,358.58 L455.04,353.52 L455.25,349.07 L455.45,345.25 L455.66,342.06 L455.87,339.51 L456.08,337.63 L456.29,336.44 L456.50,336.01 L456.78,336.52 L457.05,337.90 L457.33,340.10 L457.61,343.07 L457.89,346.80 L458.17,351.26 L458.45,356.45 L458.73,362.36 L459.01,368.97 L459.29,376.27 L459.56,384.26 L459.84,392.94 L460.12,402.29 L460.40,412.31 L460.54,404.44 L460.68,396.83 L460.82,389.48 L460.96,382.40 L461.11,375.58 L461.25,369.03 L461.39,362.74 L461.53,356.71 L461.67,350.95 L461.81,345.45 L461.95,340.22 L462.09,335.25 L462.23,330.54 L462.37,326.10 L462.54,323.21 L462.72,320.16 L462.89,316.93 L463.06,313.53 L463.23,309.96 L463.40,306.21 L463.58,302.30 L463.75,298.21 L463.92,293.96 L464.09,289.53 L464.26,284.93 L464.44,280.15 L464.61,275.21 L464.78,270.10 L464.95,276.28 L465.11,282.06 L465.28,287.41 L465.45,292.35 L465.62,296.86 L465.78,300.94 L465.95,304.58 L466.12,307.79 L466.28,310.54 L466.45,312.84 L466.62,314.68 L466.78,316.03 L466.95,316.89 L467.12,317.20 L467.31,316.87 L467.51,315.95 L467.71,314.50 L467.91,312.53 L468.11,310.07 L468.31,307.11 L468.50,303.68 L468.70,299.78 L468.90,295.41 L469.10,290.57 L469.30,285.29 L469.49,279.55 L469.69,273.37 L469.89,266.74 L470.06,273.98 L470.22,280.74 L470.39,287.01 L470.56,292.78 L470.72,298.06 L470.89,302.83 L471.06,307.10 L471.23,310.85 L471.39,314.08 L471.56,316.77 L471.73,318.92 L471.89,320.51 L472.06,321.51 L472.23,321.87 L472.43,321.47 L472.64,320.38 L472.85,318.65 L473.06,316.30 L473.27,313.36 L473.48,309.83 L473.69,305.73 L473.89,301.07 L474.10,295.85 L474.31,290.09 L474.52,283.77 L474.73,276.93 L474.94,269.54 L475.15,261.63 L475.43,274.57 L475.72,285.82 L476.01,295.50 L476.29,303.75 L476.58,310.70 L476.87,316.47 L477.15,321.21 L477.44,325.03 L477.73,328.07 L478.01,330.46 L478.30,332.32 L478.59,333.80 L478.87,335.01 L479.16,336.10 L479.40,337.26 L479.63,338.57 L479.86,340.15 L480.10,342.15 L480.33,344.71 L480.57,347.97 L480.80,352.07 L481.04,357.15 L481.27,363.34 L481.51,370.79 L481.74,379.64 L481.98,390.02 L482.21,402.08 L482.45,415.96 L482.59,407.75 L482.73,399.82 L482.87,392.17 L483.01,384.78 L483.15,377.68 L483.29,370.85 L483.43,364.29 L483.57,358.01 L483.71,352.00 L483.85,346.27 L483.99,340.82 L484.13,335.64 L484.28,330.73 L484.42,326.10 L484.59,323.44 L484.76,320.62 L484.93,317.65 L485.10,314.51 L485.28,311.22 L485.45,307.77 L485.62,304.16 L485.79,300.39 L485.96,296.47 L486.14,292.39 L486.31,288.15 L486.48,283.75 L486.65,279.19 L486.82,274.48 L486.98,279.23 L487.14,283.66 L487.29,287.77 L487.45,291.55 L487.61,295.02 L487.76,298.15 L487.92,300.95 L488.08,303.40 L488.23,305.52 L488.39,307.29 L488.55,308.70 L488.70,309.74 L488.86,310.39 L489.01,310.63 L489.20,310.38 L489.39,309.69 L489.58,308.59 L489.77,307.11 L489.95,305.25 L490.14,303.03 L490.33,300.44 L490.52,297.49 L490.70,294.20 L490.89,290.55 L491.08,286.57 L491.27,282.24 L491.45,277.58 L491.64,272.58 L491.81,277.90 L491.98,282.87 L492.14,287.48 L492.31,291.73 L492.48,295.61 L492.64,299.12 L492.81,302.25 L492.98,305.01 L493.14,307.38 L493.31,309.36 L493.48,310.94 L493.64,312.11 L493.81,312.85 L493.98,313.11 L494.16,312.83 L494.33,312.05 L494.51,310.81 L494.69,309.13 L494.86,307.03 L495.04,304.51 L495.22,301.59 L495.40,298.26 L495.57,294.53 L495.75,290.42 L495.93,285.91 L496.11,281.02 L496.28,275.75 L496.46,270.10 L496.63,276.13 L496.79,281.76 L496.96,286.98 L497.13,291.79 L497.29,296.19 L497.46,300.17 L497.63,303.73 L497.79,306.85 L497.96,309.54 L498.13,311.78 L498.30,313.57 L498.46,314.90 L498.63,315.73 L498.80,316.03 L498.99,315.71 L499.19,314.82 L499.39,313.42 L499.59,311.51 L499.79,309.13 L499.98,306.27 L500.18,302.94 L500.38,299.16 L500.58,294.93 L500.78,290.25 L500.97,285.14 L501.17,279.58 L501.37,273.59 L501.57,267.18 L501.75,274.19 L501.92,280.73 L502.10,286.80 L502.28,292.39 L502.46,297.50 L502.63,302.13 L502.81,306.26 L502.99,309.89 L503.16,313.01 L503.34,315.62 L503.52,317.70 L503.70,319.24 L503.87,320.21 L504.05,320.56 L504.24,320.17 L504.43,319.12 L504.61,317.44 L504.80,315.17 L504.99,312.33 L505.18,308.92 L505.36,304.97 L505.55,300.46 L505.74,295.42 L505.93,289.85 L506.12,283.75 L506.30,277.14 L506.49,270.00 L506.68,262.36 L506.88,271.10 L507.08,279.25 L507.27,286.81 L507.47,293.78 L507.67,300.15 L507.87,305.91 L508.07,311.06 L508.26,315.58 L508.46,319.48 L508.66,322.73 L508.86,325.32 L509.06,327.23 L509.25,328.44 L509.45,328.88 L509.73,328.36 L510.02,326.94 L510.30,324.69 L510.58,321.65 L510.86,317.82 L511.14,313.25 L511.42,307.93 L511.70,301.88 L511.99,295.10 L512.27,287.62 L512.55,279.43 L512.83,270.54 L513.11,260.95 L513.39,250.68 L513.54,258.48 L513.69,266.02 L513.84,273.30 L513.99,280.32 L514.14,287.07 L514.30,293.56 L514.45,299.80 L514.60,305.77 L514.75,311.48 L514.90,316.92 L515.05,322.11 L515.20,327.04 L515.35,331.70 L515.50,336.10 L515.68,339.01 L515.86,342.10 L516.05,345.35 L516.23,348.78 L516.41,352.39 L516.60,356.16 L516.78,360.11 L516.96,364.24 L517.15,368.53 L517.33,373.00 L517.52,377.64 L517.70,382.46 L517.88,387.44 L518.07,392.60 L518.22,386.90 L518.38,381.57 L518.53,376.63 L518.69,372.08 L518.85,367.92 L519.00,364.15 L519.16,360.79 L519.32,357.84 L519.47,355.29 L519.63,353.17 L519.79,351.48 L519.94,350.23 L520.10,349.44 L520.26,349.15 L520.43,349.46 L520.61,350.30 L520.79,351.63 L520.96,353.44 L521.14,355.70 L521.32,358.42 L521.50,361.57 L521.67,365.16 L521.85,369.18 L522.03,373.62 L522.21,378.48 L522.38,383.75 L522.56,389.43 L522.74,395.52 L522.92,388.95 L523.11,382.82 L523.30,377.14 L523.49,371.89 L523.68,367.11 L523.86,362.77 L524.05,358.90 L524.24,355.50 L524.43,352.57 L524.61,350.13 L524.80,348.18 L524.99,346.74 L525.18,345.83 L525.36,345.50 L525.56,345.86 L525.76,346.84 L525.96,348.39 L526.16,350.49 L526.36,353.13 L526.55,356.29 L526.75,359.96 L526.95,364.13 L527.15,368.81 L527.35,373.97 L527.54,379.63 L527.74,385.76 L527.94,392.38 L528.14,399.46 L528.33,391.61 L528.51,384.28 L528.70,377.48 L528.89,371.22 L529.08,365.49 L529.26,360.31 L529.45,355.68 L529.64,351.62 L529.83,348.11 L530.02,345.19 L530.20,342.86 L530.39,341.14 L530.58,340.06 L530.77,339.66 L530.99,340.11 L531.20,341.33 L531.42,343.26 L531.64,345.88 L531.86,349.17 L532.08,353.10 L532.30,357.68 L532.52,362.88 L532.74,368.71 L532.96,375.15 L533.18,382.19 L533.39,389.84 L533.61,398.08 L533.83,406.91 L534.00,392.87 L534.16,380.66 L534.33,370.16 L534.50,361.20 L534.66,353.67 L534.83,347.40 L534.99,342.26 L535.16,338.12 L535.33,334.82 L535.49,332.23 L535.66,330.20 L535.82,328.60 L535.99,327.28 L536.15,326.10 L536.37,325.15 L536.59,324.08 L536.81,322.78 L537.03,321.14 L537.25,319.04 L537.47,316.36 L537.69,313.00 L537.91,308.84 L538.13,303.76 L538.35,297.65 L538.57,290.39 L538.79,281.88 L539.01,271.99 L539.23,260.61 L539.44,273.30 L539.65,284.33 L539.86,293.83 L540.07,301.92 L540.28,308.73 L540.48,314.40 L540.69,319.04 L540.90,322.79 L541.11,325.77 L541.32,328.11 L541.53,329.94 L541.74,331.39 L541.94,332.58 L542.15,333.65 L542.39,334.78 L542.63,336.05 L542.87,337.59 L543.11,339.53 L543.35,342.02 L543.59,345.19 L543.83,349.18 L544.07,354.11 L544.31,360.13 L544.55,367.38 L544.79,375.98 L545.03,386.07 L545.27,397.80 L545.51,411.29 L545.67,403.51 L545.82,395.99 L545.98,388.73 L546.13,381.73 L546.29,375.00 L546.44,368.52 L546.59,362.31 L546.75,356.35 L546.90,350.66 L547.06,345.22 L547.21,340.05 L547.37,335.14 L547.52,330.49 L547.68,326.10 L547.87,323.12 L548.06,319.97 L548.25,316.64 L548.44,313.13 L548.63,309.45 L548.81,305.59 L549.00,301.55 L549.19,297.34 L549.38,292.95 L549.57,288.38 L549.76,283.64 L549.95,278.72 L550.14,273.62 L550.33,268.35 L550.48,274.95 L550.64,281.12 L550.80,286.84 L550.95,292.11 L551.11,296.93 L551.27,301.29 L551.42,305.18 L551.58,308.60 L551.74,311.55 L551.89,314.01 L552.05,315.97 L552.21,317.41 L552.36,318.33 L552.52,318.66 L552.72,318.30 L552.93,317.30 L553.14,315.72 L553.34,313.59 L553.55,310.91 L553.75,307.70 L553.96,303.97 L554.17,299.72 L554.37,294.97 L554.58,289.72 L554.78,283.98 L554.99,277.74 L555.20,271.02 L555.40,263.82 L555.59,271.89 L555.78,279.41 L555.96,286.39 L556.15,292.83 L556.34,298.71 L556.53,304.02 L556.72,308.78 L556.90,312.95 L557.09,316.55 L557.28,319.55 L557.47,321.94 L557.65,323.71 L557.84,324.82 L558.03,325.23 L558.27,324.77 L558.51,323.52 L558.75,321.54 L558.99,318.85 L559.23,315.48 L559.47,311.44 L559.71,306.74 L559.95,301.40 L560.19,295.43 L560.43,288.82 L560.67,281.59 L560.91,273.75 L561.15,265.29 L561.39,256.23 L561.55,263.52 L561.71,270.57 L561.87,277.38 L562.03,283.94 L562.18,290.26 L562.34,296.33 L562.50,302.15 L562.66,307.74 L562.82,313.08 L562.98,318.17 L563.14,323.02 L563.30,327.62 L563.46,331.98 L563.62,336.10 L563.82,339.48 L564.01,343.06 L564.21,346.84 L564.40,350.82 L564.60,355.00 L564.79,359.38 L564.99,363.96 L565.18,368.74 L565.38,373.73 L565.57,378.91 L565.77,384.30 L565.96,389.88 L566.16,395.67 L566.35,401.65 L566.59,392.78 L566.83,384.51 L567.07,376.83 L567.31,369.75 L567.55,363.29 L567.79,357.44 L568.03,352.21 L568.27,347.61 L568.51,343.66 L568.75,340.36 L568.99,337.73 L569.23,335.79 L569.47,334.56 L569.71,334.11 L570.00,334.66 L570.29,336.15 L570.58,338.51 L570.88,341.71 L571.17,345.73 L571.46,350.53 L571.75,356.12 L572.04,362.48 L572.34,369.59 L572.63,377.45 L572.92,386.06 L573.21,395.40 L573.50,405.46 L573.80,416.25 L573.93,408.02 L574.07,400.06 L574.20,392.38 L574.34,384.98 L574.48,377.85 L574.61,370.99 L574.75,364.42 L574.88,358.11 L575.02,352.09 L575.16,346.34 L575.29,340.86 L575.43,335.67 L575.56,330.75 L575.70,326.10 L575.87,323.45 L576.03,320.65 L576.20,317.69 L576.37,314.58 L576.53,311.30 L576.70,307.87 L576.86,304.28 L577.03,300.54 L577.20,296.64 L577.36,292.58 L577.53,288.36 L577.70,283.99 L577.86,279.46 L578.03,274.77 L578.20,279.42 L578.36,283.76 L578.53,287.79 L578.70,291.50 L578.86,294.89 L579.03,297.96 L579.20,300.70 L579.36,303.11 L579.53,305.19 L579.70,306.92 L579.86,308.30 L580.03,309.32 L580.20,309.96 L580.36,310.19 L580.54,309.95 L580.72,309.26 L580.90,308.18 L581.07,306.71 L581.25,304.88 L581.43,302.67 L581.61,300.12 L581.78,297.21 L581.96,293.95 L582.14,290.35 L582.31,286.41 L582.49,282.13 L582.67,277.52 L582.85,272.58 L583.01,277.86 L583.18,282.80 L583.35,287.37 L583.51,291.59 L583.68,295.44 L583.85,298.93 L584.01,302.04 L584.18,304.78 L584.35,307.13 L584.52,309.10 L584.68,310.67 L584.85,311.82 L585.02,312.56 L585.18,312.82 L585.37,312.54 L585.56,311.77 L585.75,310.56 L585.93,308.91 L586.12,306.84 L586.31,304.37 L586.50,301.49 L586.68,298.22 L586.87,294.56 L587.06,290.51 L587.25,286.08 L587.43,281.27 L587.62,276.09 L587.81,270.54 L587.98,276.43 L588.14,281.94 L588.31,287.05 L588.48,291.75 L588.64,296.05 L588.81,299.94 L588.98,303.42 L589.14,306.47 L589.31,309.10 L589.48,311.29 L589.65,313.04 L589.81,314.34 L589.98,315.15 L590.15,315.45 L590.33,315.13 L590.52,314.26 L590.71,312.89 L590.90,311.02 L591.08,308.69 L591.27,305.89 L591.46,302.63 L591.65,298.93 L591.84,294.79 L592.02,290.21 L592.21,285.20 L592.40,279.76 L592.59,273.90 L592.77,267.62 L592.95,274.42 L593.13,280.76 L593.31,286.65 L593.48,292.07 L593.66,297.03 L593.84,301.51 L594.01,305.52 L594.19,309.04 L594.37,312.07 L594.55,314.60 L594.72,316.62 L594.90,318.11 L595.08,319.05 L595.26,319.39 L595.44,319.02 L595.63,318.00 L595.82,316.38 L596.01,314.20 L596.19,311.45 L596.38,308.17 L596.57,304.35 L596.76,300.00 L596.94,295.14 L597.13,289.76 L597.32,283.88 L597.51,277.49 L597.70,270.61 L597.88,263.24 L598.06,271.63 L598.24,279.46 L598.42,286.72 L598.59,293.41 L598.77,299.53 L598.95,305.07 L599.12,310.01 L599.30,314.36 L599.48,318.10 L599.66,321.22 L599.83,323.71 L600.01,325.55 L600.19,326.70 L600.36,327.13 L600.62,326.65 L600.87,325.33 L601.12,323.24 L601.37,320.41 L601.62,316.86 L601.87,312.60 L602.12,307.66 L602.37,302.04 L602.62,295.75 L602.87,288.79 L603.12,281.18 L603.37,272.92 L603.62,264.02 L603.87,254.48 L604.03,261.93 L604.20,269.14 L604.36,276.09 L604.53,282.79 L604.69,289.25 L604.85,295.45 L605.02,301.41 L605.18,307.12 L605.35,312.57 L605.51,317.78 L605.68,322.73 L605.84,327.44 L606.00,331.89 L606.17,336.10 L606.37,339.30 L606.57,342.69 L606.77,346.26 L606.97,350.03 L607.17,353.99 L607.37,358.13 L607.57,362.47 L607.77,367.00 L607.97,371.72 L608.18,376.62 L608.38,381.72 L608.58,387.01 L608.78,392.48 L608.98,398.15 L609.16,390.66 L609.33,383.67 L609.51,377.19 L609.69,371.21 L609.86,365.75 L610.04,360.81 L610.22,356.40 L610.40,352.52 L610.57,349.18 L610.75,346.40 L610.93,344.17 L611.11,342.53 L611.28,341.50 L611.46,341.12 L611.67,341.54 L611.88,342.68 L612.09,344.50 L612.29,346.96 L612.50,350.05 L612.71,353.75 L612.92,358.04 L613.13,362.93 L613.34,368.40 L613.55,374.45 L613.75,381.06 L613.96,388.25 L614.17,395.99 L614.38,404.28 L614.56,390.70 L614.75,378.89 L614.93,368.72 L615.11,360.06 L615.30,352.77 L615.48,346.71 L615.67,341.74 L615.85,337.72 L616.03,334.53 L616.22,332.03 L616.40,330.07 L616.59,328.52 L616.77,327.24 L616.95,326.10 L617.20,325.06 L617.44,323.90 L617.68,322.50 L617.93,320.72 L618.17,318.44 L618.42,315.54 L618.66,311.89 L618.90,307.38 L619.15,301.87 L619.39,295.24 L619.63,287.37 L619.88,278.13 L620.12,267.40 L620.36,255.06 L620.52,262.46 L620.68,269.61 L620.84,276.52 L621.00,283.18 L621.16,289.59 L621.32,295.75 L621.48,301.66 L621.64,307.32 L621.80,312.74 L621.96,317.91 L622.12,322.83 L622.28,327.50 L622.44,331.92 L622.60,336.10 L622.79,339.35 L622.99,342.79 L623.18,346.43 L623.38,350.26 L623.57,354.28 L623.77,358.50 L623.96,362.91 L624.16,367.51 L624.35,372.30 L624.55,377.29 L624.74,382.47 L624.94,387.85 L625.13,393.41 L625.33,399.17 L625.53,391.36 L625.72,384.06 L625.92,377.30 L626.12,371.06 L626.32,365.37 L626.52,360.21 L626.72,355.61 L626.91,351.56 L627.11,348.07 L627.31,345.17 L627.51,342.85 L627.71,341.13 L627.90,340.05 L628.10,339.66 L628.32,340.10 L628.54,341.32 L628.76,343.24 L628.98,345.84 L629.20,349.11 L629.42,353.02 L629.64,357.56 L629.85,362.73 L630.07,368.52 L630.29,374.91 L630.51,381.91 L630.73,389.51 L630.95,397.70 L631.17,406.47 L631.33,392.51 L631.50,380.37 L631.67,369.92 L631.83,361.01 L632.00,353.52 L632.16,347.28 L632.33,342.17 L632.50,338.05 L632.66,334.77 L632.83,332.19 L632.99,330.18 L633.16,328.58 L633.32,327.27 L633.49,326.10 L633.71,325.13 L633.93,324.05 L634.15,322.74 L634.37,321.08 L634.59,318.96 L634.81,316.25 L635.03,312.86 L635.25,308.65 L635.47,303.51 L635.69,297.33 L635.91,290.00 L636.13,281.39 L636.35,271.38 L636.57,259.88 L636.75,272.70 L636.92,283.84 L637.10,293.43 L637.28,301.60 L637.46,308.49 L637.63,314.21 L637.81,318.90 L637.99,322.68 L638.16,325.69 L638.34,328.06 L638.52,329.91 L638.70,331.37 L638.87,332.57 L639.05,333.65 L639.29,334.75 L639.53,335.99 L639.77,337.49 L640.01,339.39 L640.25,341.82 L640.49,344.91 L640.73,348.80 L640.97,353.61 L641.21,359.49 L641.45,366.55 L641.69,374.94 L641.93,384.79 L642.17,396.23 L642.41,409.39 L642.57,401.79 L642.74,394.43 L642.90,387.34 L643.07,380.49 L643.23,373.91 L643.39,367.58 L643.56,361.50 L643.72,355.68 L643.89,350.11 L644.05,344.80 L644.22,339.74 L644.38,334.94 L644.54,330.39 L644.71,326.10 L644.91,323.00 L645.11,319.72 L645.31,316.26 L645.51,312.61 L645.71,308.78 L645.91,304.76 L646.11,300.56 L646.31,296.18 L646.51,291.61 L646.72,286.86 L646.92,281.92 L647.12,276.80 L647.32,271.50 L647.52,266.01 L647.70,273.50 L647.89,280.49 L648.07,286.97 L648.26,292.95 L648.44,298.41 L648.63,303.35 L648.81,307.76 L649.00,311.64 L649.18,314.98 L649.37,317.76 L649.55,319.99 L649.74,321.63 L649.92,322.66 L650.11,323.04 L650.34,322.62 L650.57,321.47 L650.80,319.64 L651.03,317.17 L651.26,314.07 L651.49,310.36 L651.72,306.04 L651.94,301.13 L652.17,295.63 L652.40,289.56 L652.63,282.91 L652.86,275.70 L653.09,267.92 L653.32,259.59 L653.40,265.35 L653.48,270.74 L653.55,275.73 L653.63,280.33 L653.71,284.53 L653.78,288.34 L653.86,291.74 L653.94,294.72 L654.01,297.29 L654.09,299.44 L654.17,301.15 L654.25,302.41 L654.32,303.21 L654.40,303.50"/></defs>
<use href="#c1" fill="none" stroke="#008000" stroke-width="2.6" stroke-opacity="0.3" stroke-linejoin="round"/>
<use href="#c1" fill="none" stroke="#008000" stroke-width="1.75" stroke-linejoin="round"/>
<rect x="54.2" y="241.7" width="628.8" height="184.3" fill="none" stroke="#4a4a4a" stroke-width="1.3"/>
<line x1="82.30" y1="426.0" x2="82.30" y2="430.40" stroke="#383838" stroke-width="1.1"/>
<text x="82.30" y="444.80" font-size="12.6" letter-spacing="-0.5" text-anchor="middle">0</text>
<line x1="153.80" y1="426.0" x2="153.80" y2="430.40" stroke="#383838" stroke-width="1.1"/>
<text x="153.80" y="444.80" font-size="12.6" letter-spacing="-0.5" text-anchor="middle">1000</text>
<line x1="225.30" y1="426.0" x2="225.30" y2="430.40" stroke="#383838" stroke-width="1.1"/>
<text x="225.30" y="444.80" font-size="12.6" letter-spacing="-0.5" text-anchor="middle">2000</text>
<line x1="296.80" y1="426.0" x2="296.80" y2="430.40" stroke="#383838" stroke-width="1.1"/>
<text x="296.80" y="444.80" font-size="12.6" letter-spacing="-0.5" text-anchor="middle">3000</text>
<line x1="368.30" y1="426.0" x2="368.30" y2="430.40" stroke="#383838" stroke-width="1.1"/>
<text x="368.30" y="444.80" font-size="12.6" letter-spacing="-0.5" text-anchor="middle">4000</text>
<line x1="439.80" y1="426.0" x2="439.80" y2="430.40" stroke="#383838" stroke-width="1.1"/>
<text x="439.80" y="444.80" font-size="12.6" letter-spacing="-0.5" text-anchor="middle">5000</text>
<line x1="511.30" y1="426.0" x2="511.30" y2="430.40" stroke="#383838" stroke-width="1.1"/>
<text x="511.30" y="444.80" font-size="12.6" letter-spacing="-0.5" text-anchor="middle">6000</text>
<line x1="582.80" y1="426.0" x2="582.80" y2="430.40" stroke="#383838" stroke-width="1.1"/>
<text x="582.80" y="444.80" font-size="12.6" letter-spacing="-0.5" text-anchor="middle">7000</text>
<line x1="654.30" y1="426.0" x2="654.30" y2="430.40" stroke="#383838" stroke-width="1.1"/>
<text x="654.30" y="444.80" font-size="12.6" letter-spacing="-0.5" text-anchor="middle">8000</text>
<text x="367.6" y="462.60" font-size="12.6" text-anchor="middle">Time</text>
<line x1="49.80" y1="284.1" x2="54.2" y2="284.1" stroke="#383838" stroke-width="1.1"/>
<text x="43.60" y="290.10" font-size="12.6" letter-spacing="-0.5" text-anchor="end">10</text>
<line x1="49.80" y1="333.1" x2="54.2" y2="333.1" stroke="#383838" stroke-width="1.1"/>
<text x="45.00" y="339.10" font-size="12.6" letter-spacing="-0.5" text-anchor="end">0</text>
<line x1="49.80" y1="380.9" x2="54.2" y2="380.9" stroke="#383838" stroke-width="1.1"/>
<text x="43.60" y="386.90" font-size="12.6" letter-spacing="-0.5" text-anchor="end">−10</text>
<text transform="translate(10.4,335.35) rotate(-90)" font-size="12.35" text-anchor="middle">Ly Sequence</text>
<defs><path id="c2" d="M82.30,530.80 L82.37,530.62 L82.45,530.05 L82.52,529.11 L82.59,527.80 L82.66,526.11 L82.74,524.05 L82.81,521.61 L82.88,518.80 L82.96,515.61 L83.03,512.05 L83.10,508.11 L83.18,503.79 L83.25,499.10 L83.32,494.04 L83.46,501.69 L83.59,508.78 L83.73,515.30 L83.86,521.26 L84.00,526.64 L84.13,531.46 L84.27,535.72 L84.41,539.40 L84.54,542.52 L84.68,545.07 L84.81,547.06 L84.95,548.48 L85.08,549.33 L85.22,549.61 L85.46,549.29 L85.70,548.35 L85.94,546.76 L86.18,544.55 L86.42,541.70 L86.66,538.22 L86.90,534.11 L87.14,529.37 L87.38,523.99 L87.62,517.98 L87.86,511.34 L88.10,504.06 L88.34,496.16 L88.58,487.62 L88.70,496.86 L88.83,505.42 L88.95,513.29 L89.08,520.48 L89.20,526.99 L89.33,532.81 L89.45,537.94 L89.58,542.40 L89.70,546.16 L89.83,549.24 L89.95,551.64 L90.08,553.35 L90.20,554.38 L90.33,554.72 L90.67,554.31 L91.02,553.07 L91.36,551.00 L91.70,548.11 L92.05,544.39 L92.39,539.85 L92.74,534.48 L93.08,528.28 L93.43,521.26 L93.77,513.41 L94.11,504.73 L94.46,495.23 L94.80,484.90 L95.15,473.75 L95.21,489.61 L95.28,503.67 L95.35,516.02 L95.42,526.74 L95.49,535.93 L95.55,543.67 L95.62,550.07 L95.69,555.23 L95.76,559.26 L95.83,562.27 L95.89,564.40 L95.96,565.79 L96.03,566.59 L96.10,567.02 L97.70,568.02 L97.83,568.21 L97.96,568.57 L98.09,569.19 L98.22,570.14 L98.35,571.48 L98.48,573.28 L98.61,575.59 L98.74,578.45 L98.87,581.91 L99.00,586.01 L99.13,590.80 L99.26,596.32 L99.39,602.60 L99.53,609.68 L99.68,602.59 L99.84,596.02 L99.99,589.98 L100.15,584.47 L100.31,579.48 L100.46,575.01 L100.62,571.07 L100.78,567.66 L100.93,564.77 L101.09,562.40 L101.25,560.56 L101.40,559.25 L101.56,558.46 L101.72,558.20 L101.93,558.48 L102.15,559.33 L102.37,560.75 L102.59,562.74 L102.81,565.29 L103.03,568.41 L103.25,572.09 L103.47,576.35 L103.69,581.17 L103.91,586.55 L104.12,592.51 L104.34,599.03 L104.56,606.12 L104.78,613.77 L104.92,605.55 L105.05,597.94 L105.19,590.94 L105.32,584.55 L105.46,578.77 L105.59,573.59 L105.73,569.03 L105.87,565.07 L106.00,561.72 L106.14,558.98 L106.27,556.85 L106.41,555.33 L106.54,554.42 L106.68,554.11 L106.92,554.46 L107.16,555.49 L107.40,557.21 L107.64,559.63 L107.88,562.73 L108.12,566.52 L108.36,571.00 L108.60,576.17 L108.84,582.02 L109.08,588.57 L109.32,595.81 L109.56,603.74 L109.80,612.35 L110.04,621.65 L110.15,609.14 L110.26,598.05 L110.37,588.31 L110.48,579.86 L110.58,572.61 L110.69,566.50 L110.80,561.46 L110.91,557.39 L111.02,554.21 L111.13,551.83 L111.24,550.15 L111.35,549.06 L111.46,548.43 L111.57,548.09 L113.17,547.09 L113.41,546.78 L113.64,546.19 L113.88,545.17 L114.11,543.60 L114.35,541.38 L114.58,538.41 L114.82,534.61 L115.05,529.90 L115.29,524.20 L115.52,517.44 L115.76,509.54 L115.99,500.45 L116.23,490.10 L116.46,478.42 L116.52,492.99 L116.57,505.91 L116.63,517.25 L116.69,527.10 L116.75,535.54 L116.81,542.65 L116.86,548.53 L116.92,553.27 L116.98,556.97 L117.04,559.74 L117.09,561.70 L117.15,562.97 L117.21,563.71 L117.27,564.10 L118.87,565.10 L119.04,565.33 L119.21,565.77 L119.38,566.52 L119.55,567.69 L119.73,569.33 L119.90,571.53 L120.07,574.34 L120.24,577.83 L120.42,582.05 L120.59,587.06 L120.76,592.91 L120.93,599.64 L121.11,607.31 L121.28,615.96 L121.41,607.20 L121.55,599.09 L121.68,591.62 L121.82,584.81 L121.96,578.64 L122.09,573.13 L122.23,568.26 L122.36,564.04 L122.50,560.47 L122.63,557.55 L122.77,555.28 L122.90,553.66 L123.04,552.68 L123.18,552.36 L123.49,552.74 L123.80,553.88 L124.11,555.78 L124.43,558.45 L124.74,561.87 L125.05,566.05 L125.36,571.00 L125.68,576.70 L125.99,583.17 L126.30,590.40 L126.62,598.38 L126.93,607.13 L127.24,616.64 L127.55,626.91 L127.60,612.71 L127.65,600.12 L127.70,589.07 L127.74,579.47 L127.79,571.25 L127.84,564.32 L127.88,558.59 L127.93,553.97 L127.98,550.37 L128.03,547.67 L128.07,545.76 L128.12,544.52 L128.17,543.80 L128.21,543.42 L129.81,542.42 L130.00,542.18 L130.18,541.71 L130.36,540.92 L130.55,539.70 L130.73,537.97 L130.91,535.66 L131.09,532.70 L131.28,529.03 L131.46,524.59 L131.64,519.32 L131.82,513.17 L132.01,506.09 L132.19,498.03 L132.37,488.93 L132.50,497.79 L132.62,506.00 L132.75,513.55 L132.87,520.44 L133.00,526.67 L133.12,532.25 L133.25,537.18 L133.37,541.44 L133.50,545.06 L133.62,548.01 L133.75,550.31 L133.87,551.95 L134.00,552.93 L134.12,553.26 L134.43,552.87 L134.73,551.71 L135.03,549.78 L135.33,547.07 L135.64,543.58 L135.94,539.33 L136.24,534.29 L136.54,528.49 L136.85,521.91 L137.15,514.55 L137.45,506.43 L137.75,497.52 L138.06,487.85 L138.36,477.40 L138.47,492.02 L138.58,504.98 L138.69,516.36 L138.80,526.25 L138.91,534.71 L139.02,541.85 L139.13,547.75 L139.24,552.50 L139.34,556.22 L139.45,559.00 L139.56,560.96 L139.67,562.24 L139.78,562.98 L139.89,563.37 L141.49,564.37 L141.62,564.60 L141.75,565.03 L141.89,565.78 L142.02,566.93 L142.15,568.56 L142.28,570.74 L142.41,573.53 L142.54,576.99 L142.67,581.18 L142.80,586.14 L142.93,591.94 L143.06,598.61 L143.19,606.22 L143.32,614.79 L143.48,606.39 L143.63,598.62 L143.79,591.46 L143.95,584.93 L144.10,579.02 L144.26,573.73 L144.42,569.06 L144.57,565.02 L144.73,561.60 L144.89,558.80 L145.04,556.62 L145.20,555.06 L145.35,554.13 L145.51,553.82 L145.76,554.17 L146.01,555.23 L146.26,557.00 L146.51,559.48 L146.76,562.66 L147.01,566.55 L147.26,571.14 L147.51,576.45 L147.76,582.46 L148.01,589.17 L148.26,596.60 L148.51,604.73 L148.76,613.57 L149.01,623.11 L149.09,610.16 L149.17,598.67 L149.25,588.58 L149.33,579.82 L149.41,572.32 L149.49,565.99 L149.56,560.77 L149.64,556.55 L149.72,553.26 L149.80,550.80 L149.88,549.06 L149.96,547.93 L150.03,547.27 L150.11,546.92 L151.71,545.92 L151.91,545.63 L152.10,545.09 L152.29,544.15 L152.48,542.70 L152.68,540.65 L152.87,537.91 L153.06,534.40 L153.26,530.05 L153.45,524.79 L153.64,518.54 L153.84,511.25 L154.03,502.85 L154.22,493.29 L154.42,482.51 L154.58,495.64 L154.74,507.28 L154.90,517.50 L155.06,526.38 L155.23,533.98 L155.39,540.39 L155.55,545.69 L155.71,549.96 L155.87,553.30 L156.03,555.79 L156.20,557.56 L156.36,558.70 L156.52,559.37 L156.68,559.72 L158.28,560.72 L158.41,561.00 L158.54,561.54 L158.67,562.47 L158.80,563.89 L158.93,565.91 L159.07,568.60 L159.20,572.06 L159.33,576.34 L159.46,581.52 L159.59,587.66 L159.72,594.83 L159.85,603.10 L159.98,612.50 L160.11,623.11 L160.20,610.16 L160.29,598.67 L160.38,588.58 L160.46,579.82 L160.55,572.32 L160.64,565.99 L160.73,560.77 L160.82,556.55 L160.91,553.26 L161.00,550.80 L161.09,549.06 L161.18,547.93 L161.26,547.27 L161.35,546.92 L162.95,545.92 L163.15,545.63 L163.34,545.09 L163.53,544.14 L163.73,542.69 L163.92,540.64 L164.11,537.89 L164.31,534.37 L164.50,530.01 L164.69,524.74 L164.88,518.48 L165.08,511.17 L165.27,502.75 L165.46,493.17 L165.66,482.36 L165.80,495.52 L165.94,507.18 L166.08,517.42 L166.22,526.32 L166.36,533.93 L166.50,540.36 L166.64,545.66 L166.78,549.94 L166.93,553.28 L167.07,555.78 L167.21,557.55 L167.35,558.70 L167.49,559.37 L167.63,559.72 L169.23,560.72 L169.36,561.00 L169.49,561.54 L169.62,562.46 L169.75,563.88 L169.88,565.89 L170.01,568.57 L170.14,572.00 L170.28,576.26 L170.41,581.42 L170.54,587.54 L170.67,594.67 L170.80,602.90 L170.93,612.26 L171.06,622.82 L171.15,609.87 L171.24,598.38 L171.32,588.29 L171.41,579.53 L171.50,572.03 L171.59,565.70 L171.68,560.47 L171.77,556.26 L171.86,552.97 L171.95,550.51 L172.04,548.77 L172.12,547.64 L172.21,546.98 L172.30,546.63 L173.90,545.63 L174.12,545.34 L174.35,544.78 L174.57,543.83 L174.79,542.36 L175.01,540.28 L175.23,537.51 L175.45,533.95 L175.68,529.54 L175.90,524.20 L176.12,517.87 L176.34,510.48 L176.56,501.97 L176.79,492.27 L177.01,481.34 L177.13,494.79 L177.25,506.72 L177.37,517.19 L177.49,526.29 L177.61,534.08 L177.73,540.65 L177.85,546.08 L177.97,550.45 L178.09,553.87 L178.21,556.43 L178.33,558.23 L178.45,559.41 L178.57,560.09 L178.69,560.45 L180.29,561.45 L180.43,561.72 L180.57,562.23 L180.71,563.12 L180.85,564.47 L180.99,566.40 L181.13,568.97 L181.28,572.26 L181.42,576.34 L181.56,581.27 L181.70,587.13 L181.84,593.97 L181.98,601.84 L182.12,610.81 L182.26,620.92 L182.37,608.54 L182.48,597.56 L182.59,587.91 L182.70,579.54 L182.81,572.37 L182.92,566.32 L183.03,561.32 L183.14,557.30 L183.25,554.15 L183.36,551.80 L183.47,550.13 L183.58,549.05 L183.69,548.42 L183.80,548.09 L185.40,547.09 L185.62,546.76 L185.85,546.15 L186.07,545.08 L186.30,543.45 L186.52,541.14 L186.74,538.04 L186.97,534.08 L187.19,529.17 L187.42,523.23 L187.64,516.18 L187.87,507.95 L188.09,498.47 L188.32,487.67 L188.54,475.50 L188.62,490.69 L188.70,504.16 L188.78,515.99 L188.85,526.26 L188.93,535.05 L189.01,542.47 L189.09,548.60 L189.17,553.54 L189.25,557.40 L189.32,560.29 L189.40,562.33 L189.48,563.65 L189.56,564.42 L189.64,564.83 L191.24,565.83 L191.39,566.04 L191.54,566.44 L191.69,567.12 L191.84,568.17 L191.99,569.66 L192.15,571.65 L192.30,574.19 L192.45,577.35 L192.60,581.18 L192.75,585.71 L192.90,591.00 L193.05,597.10 L193.21,604.04 L193.36,611.87 L193.51,604.18 L193.67,597.05 L193.83,590.50 L193.98,584.51 L194.14,579.10 L194.30,574.25 L194.45,569.98 L194.61,566.27 L194.77,563.14 L194.92,560.57 L195.08,558.57 L195.23,557.15 L195.39,556.29 L195.55,556.01 L195.78,556.32 L196.01,557.26 L196.24,558.83 L196.47,561.02 L196.69,563.84 L196.92,567.29 L197.15,571.36 L197.38,576.06 L197.61,581.39 L197.84,587.34 L198.07,593.92 L198.30,601.13 L198.53,608.96 L198.76,617.42 L198.86,608.29 L198.97,599.83 L199.07,592.05 L199.18,584.95 L199.28,578.52 L199.38,572.77 L199.49,567.69 L199.59,563.30 L199.70,559.58 L199.80,556.53 L199.91,554.16 L200.01,552.47 L200.11,551.46 L200.22,551.12 L200.56,551.54 L200.91,552.78 L201.25,554.87 L201.60,557.78 L201.94,561.53 L202.28,566.11 L202.63,571.53 L202.97,577.77 L203.32,584.85 L203.66,592.77 L204.00,601.51 L204.35,611.09 L204.69,621.50 L205.04,632.75 L205.10,616.61 L205.17,602.31 L205.24,589.75 L205.31,578.84 L205.38,569.50 L205.44,561.62 L205.51,555.11 L205.58,549.86 L205.65,545.76 L205.72,542.70 L205.78,540.53 L205.85,539.12 L205.92,538.31 L205.99,537.87 L207.59,536.87 L207.74,536.69 L207.89,536.33 L208.04,535.73 L208.19,534.79 L208.35,533.47 L208.50,531.70 L208.65,529.43 L208.80,526.63 L208.95,523.23 L209.10,519.20 L209.25,514.49 L209.41,509.07 L209.56,502.90 L209.71,495.94 L209.84,502.93 L209.98,509.40 L210.11,515.36 L210.25,520.80 L210.39,525.72 L210.52,530.12 L210.66,534.00 L210.79,537.37 L210.93,540.22 L211.06,542.55 L211.20,544.36 L211.33,545.66 L211.47,546.43 L211.61,546.69 L211.84,546.41 L212.06,545.57 L212.29,544.17 L212.52,542.21 L212.75,539.70 L212.98,536.62 L213.21,532.98 L213.44,528.78 L213.67,524.03 L213.90,518.71 L214.13,512.83 L214.36,506.40 L214.59,499.40 L214.82,491.85 L214.96,500.01 L215.11,507.56 L215.26,514.51 L215.40,520.86 L215.55,526.60 L215.69,531.73 L215.84,536.27 L215.99,540.19 L216.13,543.52 L216.28,546.24 L216.42,548.35 L216.57,549.86 L216.72,550.77 L216.86,551.07 L217.11,550.73 L217.36,549.71 L217.61,548.00 L217.86,545.62 L218.11,542.55 L218.36,538.80 L218.61,534.37 L218.86,529.25 L219.11,523.46 L219.36,516.98 L219.61,509.82 L219.86,501.98 L220.11,493.46 L220.36,484.26 L220.52,496.59 L220.67,507.53 L220.82,517.14 L220.97,525.48 L221.12,532.62 L221.27,538.64 L221.42,543.62 L221.58,547.63 L221.73,550.76 L221.88,553.11 L222.03,554.77 L222.18,555.84 L222.33,556.47 L222.48,556.80 L224.08,557.80 L224.26,558.12 L224.43,558.73 L224.60,559.78 L224.77,561.39 L224.95,563.67 L225.12,566.72 L225.29,570.62 L225.46,575.46 L225.64,581.32 L225.81,588.27 L225.98,596.38 L226.15,605.73 L226.32,616.37 L226.50,628.37 L226.55,613.53 L226.61,600.36 L226.67,588.81 L226.73,578.77 L226.78,570.18 L226.84,562.93 L226.90,556.94 L226.96,552.12 L227.01,548.35 L227.07,545.52 L227.13,543.53 L227.19,542.23 L227.24,541.48 L227.30,541.08 L228.90,540.08 L229.07,539.86 L229.25,539.44 L229.42,538.71 L229.59,537.59 L229.76,536.01 L229.94,533.90 L230.11,531.19 L230.28,527.83 L230.45,523.76 L230.62,518.94 L230.80,513.31 L230.97,506.83 L231.14,499.45 L231.31,491.12 L231.44,499.48 L231.56,507.22 L231.69,514.34 L231.81,520.84 L231.94,526.72 L232.06,531.99 L232.19,536.63 L232.31,540.66 L232.44,544.06 L232.57,546.85 L232.69,549.01 L232.82,550.56 L232.94,551.49 L233.07,551.80 L233.35,551.45 L233.63,550.40 L233.91,548.65 L234.19,546.20 L234.47,543.06 L234.75,539.21 L235.04,534.66 L235.32,529.41 L235.60,523.47 L235.88,516.82 L236.16,509.47 L236.44,501.43 L236.73,492.68 L237.01,483.24 L237.12,496.12 L237.23,507.54 L237.34,517.57 L237.45,526.28 L237.56,533.74 L237.67,540.03 L237.78,545.23 L237.88,549.42 L237.99,552.69 L238.10,555.14 L238.21,556.87 L238.32,557.99 L238.43,558.64 L238.54,558.99 L240.14,559.99 L240.32,560.28 L240.49,560.84 L240.66,561.80 L240.83,563.27 L241.00,565.36 L241.18,568.15 L241.35,571.72 L241.52,576.15 L241.69,581.52 L241.87,587.88 L242.04,595.30 L242.21,603.85 L242.38,613.59 L242.55,624.57 L242.65,611.07 L242.75,599.10 L242.85,588.59 L242.95,579.46 L243.05,571.64 L243.15,565.05 L243.25,559.60 L243.35,555.21 L243.45,551.78 L243.55,549.21 L243.65,547.40 L243.75,546.22 L243.85,545.53 L243.94,545.17 L245.54,544.17 L245.73,543.90 L245.91,543.39 L246.09,542.50 L246.28,541.14 L246.46,539.21 L246.64,536.64 L246.82,533.34 L247.01,529.25 L247.19,524.30 L247.37,518.43 L247.55,511.57 L247.74,503.68 L247.92,494.69 L248.10,484.55 L248.23,496.96 L248.36,507.96 L248.49,517.63 L248.62,526.02 L248.75,533.20 L248.89,539.26 L249.02,544.27 L249.15,548.31 L249.28,551.46 L249.41,553.82 L249.54,555.48 L249.67,556.57 L249.80,557.20 L249.93,557.53 L251.53,558.53 L251.71,558.85 L251.90,559.45 L252.08,560.49 L252.26,562.10 L252.44,564.36 L252.63,567.39 L252.81,571.27 L252.99,576.08 L253.17,581.91 L253.36,588.81 L253.54,596.87 L253.72,606.16 L253.90,616.74 L254.09,628.66 L254.18,613.77 L254.27,600.56 L254.35,588.97 L254.44,578.90 L254.53,570.28 L254.62,563.00 L254.71,557.00 L254.80,552.15 L254.89,548.37 L254.98,545.54 L255.06,543.54 L255.15,542.24 L255.24,541.48 L255.33,541.08 L256.93,540.08 L257.09,539.86 L257.26,539.44 L257.42,538.72 L257.58,537.62 L257.74,536.05 L257.90,533.95 L258.06,531.27 L258.23,527.94 L258.39,523.91 L258.55,519.13 L258.71,513.55 L258.87,507.13 L259.04,499.81 L259.20,491.56 L259.31,499.82 L259.43,507.46 L259.54,514.50 L259.66,520.92 L259.77,526.73 L259.89,531.93 L260.00,536.52 L260.11,540.50 L260.23,543.86 L260.34,546.61 L260.46,548.76 L260.57,550.29 L260.69,551.20 L260.80,551.51 L261.08,551.16 L261.37,550.12 L261.65,548.39 L261.93,545.96 L262.21,542.84 L262.49,539.02 L262.77,534.51 L263.06,529.31 L263.34,523.41 L263.62,516.82 L263.90,509.54 L264.18,501.56 L264.46,492.89 L264.74,483.53 L264.85,496.36 L264.96,507.74 L265.07,517.73 L265.18,526.40 L265.29,533.84 L265.40,540.10 L265.51,545.28 L265.62,549.45 L265.73,552.71 L265.84,555.15 L265.95,556.87 L266.06,557.99 L266.17,558.64 L266.28,558.99 L267.88,559.99 L268.06,560.29 L268.24,560.85 L268.42,561.81 L268.60,563.30 L268.78,565.40 L268.96,568.21 L269.14,571.80 L269.32,576.26 L269.50,581.66 L269.68,588.07 L269.86,595.54 L270.04,604.15 L270.22,613.95 L270.40,625.01 L270.48,611.31 L270.56,599.16 L270.64,588.49 L270.72,579.23 L270.79,571.30 L270.87,564.61 L270.95,559.08 L271.03,554.62 L271.11,551.14 L271.19,548.54 L271.26,546.70 L271.34,545.50 L271.42,544.81 L271.50,544.44 L273.10,543.44 L273.30,543.18 L273.51,542.69 L273.71,541.84 L273.91,540.54 L274.12,538.70 L274.32,536.24 L274.52,533.09 L274.73,529.18 L274.93,524.44 L275.13,518.83 L275.34,512.28 L275.54,504.73 L275.75,496.14 L275.95,486.45 L276.10,498.16 L276.25,508.55 L276.40,517.67 L276.55,525.59 L276.71,532.38 L276.86,538.10 L277.01,542.82 L277.16,546.63 L277.31,549.61 L277.46,551.84 L277.61,553.41 L277.77,554.43 L277.92,555.02 L278.07,555.34 L279.67,556.34 L279.88,556.70 L280.10,557.38 L280.31,558.55 L280.52,560.35 L280.74,562.90 L280.95,566.31 L281.17,570.67 L281.38,576.09 L281.59,582.64 L281.81,590.41 L282.02,599.47 L282.24,609.92 L282.45,621.81 L282.66,635.23 L282.72,618.30 L282.78,603.29 L282.84,590.11 L282.89,578.67 L282.95,568.86 L283.01,560.60 L283.07,553.77 L283.12,548.26 L283.18,543.96 L283.24,540.75 L283.30,538.47 L283.35,536.99 L283.41,536.14 L283.47,535.68 L285.07,534.68 L285.20,534.52 L285.33,534.23 L285.46,533.71 L285.59,532.92 L285.72,531.80 L285.85,530.30 L285.98,528.39 L286.11,526.01 L286.25,523.13 L286.38,519.72 L286.51,515.73 L286.64,511.14 L286.77,505.92 L286.90,500.02 L287.03,505.95 L287.17,511.44 L287.30,516.48 L287.44,521.09 L287.58,525.26 L287.71,529.00 L287.85,532.29 L287.98,535.14 L288.12,537.55 L288.25,539.53 L288.39,541.07 L288.52,542.16 L288.66,542.82 L288.80,543.04 L289.03,542.81 L289.25,542.10 L289.48,540.93 L289.71,539.28 L289.94,537.16 L290.17,534.58 L290.40,531.52 L290.63,527.99 L290.86,524.00 L291.09,519.53 L291.32,514.59 L291.55,509.18 L291.78,503.31 L292.01,496.96 L292.13,503.81 L292.26,510.15 L292.38,515.99 L292.51,521.32 L292.63,526.14 L292.76,530.45 L292.88,534.26 L293.01,537.56 L293.13,540.35 L293.26,542.63 L293.38,544.41 L293.51,545.68 L293.63,546.44 L293.76,546.69 L293.99,546.42 L294.22,545.60 L294.45,544.23 L294.68,542.31 L294.91,539.85 L295.14,536.83 L295.36,533.27 L295.59,529.16 L295.82,524.51 L296.05,519.31 L296.28,513.56 L296.51,507.26 L296.74,500.41 L296.97,493.02 L297.11,500.91 L297.24,508.23 L297.38,514.95 L297.51,521.09 L297.65,526.65 L297.78,531.62 L297.92,536.01 L298.06,539.81 L298.19,543.03 L298.33,545.66 L298.46,547.71 L298.60,549.17 L298.73,550.05 L298.87,550.34 L299.12,550.02 L299.37,549.04 L299.62,547.42 L299.87,545.15 L300.12,542.23 L300.37,538.66 L300.62,534.44 L300.87,529.57 L301.12,524.06 L301.37,517.89 L301.62,511.08 L301.87,503.61 L302.12,495.50 L302.37,486.74 L302.51,498.41 L302.65,508.75 L302.80,517.83 L302.94,525.72 L303.08,532.47 L303.22,538.17 L303.36,542.88 L303.50,546.67 L303.64,549.63 L303.78,551.85 L303.92,553.42 L304.06,554.44 L304.21,555.03 L304.35,555.34 L305.95,556.34 L306.18,556.70 L306.42,557.38 L306.65,558.55 L306.89,560.35 L307.12,562.90 L307.35,566.31 L307.59,570.67 L307.82,576.09 L308.06,582.64 L308.29,590.41 L308.53,599.47 L308.76,609.92 L309.00,621.81 L309.23,635.23 L309.30,618.18 L309.37,603.06 L309.44,589.78 L309.51,578.25 L309.57,568.38 L309.64,560.05 L309.71,553.17 L309.78,547.63 L309.85,543.29 L309.91,540.05 L309.98,537.76 L310.05,536.27 L310.12,535.41 L310.19,534.95 L311.79,533.95 L311.93,533.80 L312.07,533.51 L312.21,533.02 L312.35,532.26 L312.49,531.18 L312.63,529.74 L312.77,527.89 L312.91,525.61 L313.05,522.84 L313.20,519.55 L313.34,515.72 L313.48,511.31 L313.62,506.28 L313.76,500.61 L313.89,506.39 L314.03,511.75 L314.17,516.68 L314.30,521.18 L314.44,525.25 L314.57,528.89 L314.71,532.10 L314.84,534.89 L314.98,537.25 L315.11,539.18 L315.25,540.68 L315.39,541.75 L315.52,542.39 L315.66,542.60 L315.87,542.38 L316.07,541.69 L316.28,540.55 L316.49,538.95 L316.70,536.89 L316.91,534.38 L317.12,531.41 L317.33,527.99 L317.53,524.10 L317.74,519.76 L317.95,514.97 L318.16,509.71 L318.37,504.00 L318.58,497.83 L318.71,504.46 L318.85,510.60 L318.98,516.25 L319.12,521.41 L319.25,526.07 L319.39,530.25 L319.53,533.93 L319.66,537.12 L319.80,539.82 L319.93,542.03 L320.07,543.75 L320.20,544.98 L320.34,545.72 L320.47,545.96 L320.71,545.70 L320.95,544.90 L321.19,543.58 L321.43,541.73 L321.67,539.36 L321.91,536.45 L322.15,533.02 L322.39,529.05 L322.63,524.56 L322.87,519.54 L323.11,514.00 L323.35,507.92 L323.59,501.32 L323.83,494.18 L323.96,501.76 L324.08,508.77 L324.21,515.23 L324.33,521.12 L324.46,526.45 L324.58,531.22 L324.71,535.43 L324.83,539.07 L324.96,542.16 L325.08,544.68 L325.21,546.65 L325.33,548.05 L325.46,548.89 L325.58,549.17 L325.81,548.86 L326.04,547.92 L326.27,546.36 L326.50,544.17 L326.73,541.36 L326.96,537.92 L327.19,533.86 L327.42,529.17 L327.65,523.85 L327.88,517.91 L328.11,511.35 L328.34,504.16 L328.57,496.35 L328.80,487.91 L328.93,497.11 L329.07,505.63 L329.20,513.47 L329.34,520.63 L329.47,527.11 L329.61,532.90 L329.74,538.02 L329.88,542.45 L330.02,546.20 L330.15,549.27 L330.29,551.65 L330.42,553.36 L330.56,554.38 L330.69,554.72 L331.04,554.30 L331.38,553.05 L331.73,550.97 L332.07,548.05 L332.41,544.30 L332.76,539.71 L333.10,534.29 L333.45,528.04 L333.79,520.96 L334.13,513.03 L334.48,504.28 L334.82,494.69 L335.17,484.27 L335.51,473.02 L335.60,489.13 L335.69,503.41 L335.78,515.95 L335.87,526.84 L335.96,536.17 L336.04,544.04 L336.13,550.54 L336.22,555.78 L336.31,559.87 L336.40,562.93 L336.49,565.09 L336.58,566.50 L336.67,567.32 L336.75,567.75 L338.35,568.75 L338.47,568.93 L338.59,569.27 L338.72,569.86 L338.84,570.77 L338.96,572.06 L339.08,573.77 L339.20,575.97 L339.32,578.70 L339.44,582.00 L339.56,585.92 L339.68,590.49 L339.80,595.76 L339.92,601.75 L340.04,608.52 L340.17,601.83 L340.31,595.63 L340.44,589.93 L340.58,584.73 L340.71,580.02 L340.85,575.81 L340.99,572.09 L341.12,568.87 L341.26,566.15 L341.39,563.92 L341.53,562.18 L341.66,560.94 L341.80,560.20 L341.93,559.95 L342.14,560.22 L342.35,561.02 L342.56,562.35 L342.77,564.21 L342.98,566.61 L343.19,569.54 L343.39,573.00 L343.60,577.00 L343.81,581.53 L344.02,586.59 L344.23,592.19 L344.44,598.31 L344.65,604.97 L344.85,612.17 L345.01,604.43 L345.17,597.27 L345.32,590.68 L345.48,584.66 L345.64,579.22 L345.79,574.35 L345.95,570.05 L346.11,566.32 L346.26,563.17 L346.42,560.59 L346.57,558.59 L346.73,557.16 L346.89,556.30 L347.04,556.01 L347.28,556.33 L347.52,557.28 L347.76,558.86 L348.00,561.08 L348.24,563.94 L348.48,567.42 L348.72,571.54 L348.96,576.30 L349.20,581.69 L349.44,587.71 L349.68,594.37 L349.92,601.66 L350.16,609.59 L350.40,618.15 L350.55,608.86 L350.69,600.25 L350.84,592.33 L350.99,585.10 L351.13,578.56 L351.28,572.71 L351.42,567.55 L351.57,563.07 L351.72,559.29 L351.86,556.19 L352.01,553.78 L352.15,552.06 L352.30,551.03 L352.45,550.68 L352.77,551.11 L353.09,552.41 L353.42,554.56 L353.74,557.58 L354.06,561.47 L354.38,566.21 L354.71,571.82 L355.03,578.29 L355.35,585.62 L355.68,593.82 L356.00,602.88 L356.32,612.80 L356.65,623.58 L356.97,635.23 L357.07,618.30 L357.17,603.29 L357.27,590.11 L357.37,578.67 L357.47,568.86 L357.57,560.60 L357.67,553.77 L357.76,548.26 L357.86,543.96 L357.96,540.75 L358.06,538.47 L358.16,536.99 L358.26,536.14 L358.36,535.68 L359.96,534.68 L360.08,534.52 L360.20,534.23 L360.32,533.71 L360.44,532.92 L360.56,531.80 L360.68,530.30 L360.80,528.39 L360.92,526.01 L361.04,523.13 L361.16,519.72 L361.28,515.73 L361.40,511.14 L361.52,505.92 L361.64,500.02 L361.78,505.95 L361.91,511.44 L362.05,516.48 L362.18,521.09 L362.32,525.26 L362.46,529.00 L362.59,532.29 L362.73,535.14 L362.86,537.55 L363.00,539.53 L363.13,541.07 L363.27,542.16 L363.40,542.82 L363.54,543.04 L363.76,542.81 L363.97,542.10 L364.19,540.93 L364.41,539.28 L364.62,537.16 L364.84,534.58 L365.05,531.52 L365.27,527.99 L365.49,524.00 L365.70,519.53 L365.92,514.59 L366.14,509.18 L366.35,503.31 L366.57,496.96 L366.70,503.77 L366.84,510.08 L366.98,515.88 L367.11,521.17 L367.25,525.97 L367.38,530.26 L367.52,534.04 L367.65,537.32 L367.79,540.09 L367.92,542.36 L368.06,544.13 L368.20,545.39 L368.33,546.15 L368.47,546.40 L368.70,546.13 L368.93,545.31 L369.16,543.95 L369.38,542.04 L369.61,539.59 L369.84,536.59 L370.07,533.05 L370.30,528.97 L370.53,524.34 L370.76,519.16 L370.99,513.44 L371.22,507.18 L371.45,500.37 L371.68,493.02 L371.80,500.91 L371.93,508.23 L372.05,514.95 L372.18,521.09 L372.30,526.65 L372.43,531.62 L372.55,536.01 L372.68,539.81 L372.81,543.03 L372.93,545.66 L373.06,547.71 L373.18,549.17 L373.31,550.05 L373.43,550.34 L373.69,550.01 L373.95,549.04 L374.21,547.41 L374.47,545.13 L374.73,542.19 L374.99,538.61 L375.26,534.37 L375.52,529.48 L375.78,523.94 L376.04,517.74 L376.30,510.90 L376.56,503.40 L376.82,495.25 L377.08,486.45 L377.23,498.16 L377.38,508.55 L377.53,517.67 L377.69,525.59 L377.84,532.38 L377.99,538.10 L378.14,542.82 L378.29,546.63 L378.44,549.61 L378.59,551.84 L378.75,553.41 L378.90,554.43 L379.05,555.02 L379.20,555.34 L380.80,556.34 L381.01,556.70 L381.23,557.37 L381.44,558.53 L381.66,560.32 L381.87,562.85 L382.08,566.24 L382.30,570.57 L382.51,575.94 L382.73,582.44 L382.94,590.15 L383.15,599.15 L383.37,609.52 L383.58,621.33 L383.80,634.65 L383.88,617.94 L383.97,603.13 L384.06,590.12 L384.15,578.83 L384.24,569.16 L384.33,561.00 L384.42,554.26 L384.51,548.83 L384.60,544.58 L384.68,541.41 L384.77,539.17 L384.86,537.71 L384.95,536.86 L385.04,536.41 L386.64,535.41 L386.76,535.24 L386.88,534.93 L387.00,534.38 L387.12,533.54 L387.24,532.35 L387.36,530.76 L387.48,528.72 L387.60,526.19 L387.72,523.13 L387.84,519.50 L387.96,515.27 L388.08,510.39 L388.20,504.83 L388.32,498.56 L388.46,504.93 L388.59,510.83 L388.73,516.25 L388.86,521.21 L389.00,525.69 L389.13,529.70 L389.27,533.24 L389.41,536.30 L389.54,538.90 L389.68,541.02 L389.81,542.67 L389.95,543.85 L390.08,544.56 L390.22,544.79 L390.45,544.54 L390.68,543.78 L390.91,542.52 L391.14,540.75 L391.37,538.47 L391.60,535.69 L391.82,532.40 L392.05,528.60 L392.28,524.30 L392.51,519.49 L392.74,514.18 L392.97,508.36 L393.20,502.04 L393.43,495.21 L393.56,502.50 L393.68,509.25 L393.81,515.47 L393.93,521.14 L394.06,526.27 L394.18,530.86 L394.31,534.91 L394.43,538.43 L394.56,541.40 L394.68,543.83 L394.81,545.72 L394.93,547.07 L395.06,547.88 L395.18,548.15 L395.41,547.85 L395.64,546.97 L395.87,545.49 L396.10,543.41 L396.33,540.75 L396.56,537.49 L396.79,533.64 L397.02,529.19 L397.25,524.16 L397.48,518.53 L397.71,512.31 L397.94,505.50 L398.16,498.09 L398.39,490.10 L398.52,498.76 L398.64,506.78 L398.77,514.16 L398.89,520.89 L399.02,526.99 L399.14,532.44 L399.27,537.25 L399.40,541.42 L399.52,544.95 L399.65,547.84 L399.77,550.08 L399.90,551.69 L400.02,552.65 L400.15,552.97 L400.45,552.60 L400.75,551.48 L401.05,549.61 L401.36,547.00 L401.66,543.65 L401.96,539.54 L402.26,534.70 L402.57,529.10 L402.87,522.76 L403.17,515.68 L403.47,507.85 L403.77,499.27 L404.08,489.95 L404.38,479.88 L404.49,493.95 L404.60,506.43 L404.71,517.39 L404.82,526.90 L404.93,535.05 L405.04,541.92 L405.15,547.60 L405.26,552.18 L405.37,555.75 L405.48,558.43 L405.59,560.32 L405.70,561.55 L405.81,562.26 L405.92,562.64 L407.52,563.64 L407.64,563.88 L407.76,564.34 L407.88,565.13 L408.00,566.35 L408.12,568.08 L408.24,570.38 L408.36,573.33 L408.48,576.99 L408.60,581.42 L408.72,586.67 L408.84,592.81 L408.96,599.87 L409.08,607.91 L409.20,616.98 L409.35,607.95 L409.51,599.59 L409.67,591.89 L409.82,584.87 L409.98,578.51 L410.14,572.82 L410.29,567.80 L410.45,563.45 L410.60,559.77 L410.76,556.76 L410.92,554.42 L411.07,552.75 L411.23,551.75 L411.39,551.41 L411.71,551.82 L412.03,553.04 L412.36,555.08 L412.68,557.93 L413.00,561.60 L413.33,566.08 L413.65,571.38 L413.97,577.49 L414.30,584.42 L414.62,592.17 L414.94,600.72 L415.27,610.10 L415.59,620.29 L415.91,631.29 L416.00,615.65 L416.09,601.79 L416.18,589.61 L416.27,579.04 L416.36,569.98 L416.45,562.35 L416.53,556.04 L416.62,550.95 L416.71,546.98 L416.80,544.01 L416.89,541.91 L416.98,540.54 L417.07,539.75 L417.16,539.33 L418.76,538.33 L418.90,538.14 L419.04,537.77 L419.18,537.14 L419.32,536.16 L419.46,534.78 L419.60,532.94 L419.74,530.58 L419.88,527.65 L420.03,524.10 L420.17,519.90 L420.31,514.99 L420.45,509.34 L420.59,502.90 L420.73,495.64 L420.86,502.78 L420.98,509.38 L421.11,515.46 L421.23,521.00 L421.36,526.02 L421.48,530.51 L421.61,534.48 L421.73,537.91 L421.86,540.82 L421.98,543.19 L422.11,545.04 L422.23,546.36 L422.36,547.16 L422.48,547.42 L422.71,547.13 L422.94,546.27 L423.17,544.82 L423.40,542.80 L423.63,540.20 L423.86,537.03 L424.09,533.27 L424.32,528.94 L424.55,524.03 L424.78,518.55 L425.01,512.48 L425.23,505.84 L425.46,498.62 L425.69,490.83 L425.82,499.27 L425.94,507.08 L426.07,514.27 L426.19,520.83 L426.32,526.77 L426.44,532.09 L426.57,536.78 L426.69,540.84 L426.82,544.28 L426.94,547.09 L427.07,549.28 L427.19,550.84 L427.32,551.78 L427.45,552.09 L427.74,551.73 L428.03,550.66 L428.32,548.86 L428.61,546.35 L428.91,543.12 L429.20,539.18 L429.49,534.51 L429.78,529.13 L430.07,523.03 L430.36,516.22 L430.66,508.68 L430.95,500.43 L431.24,491.46 L431.53,481.78 L431.68,495.03 L431.84,506.78 L431.99,517.10 L432.14,526.06 L432.29,533.74 L432.44,540.21 L432.59,545.56 L432.74,549.87 L432.90,553.24 L433.05,555.75 L433.20,557.53 L433.35,558.69 L433.50,559.36 L433.65,559.72 L435.25,560.72 L435.37,560.99 L435.49,561.51 L435.61,562.40 L435.73,563.77 L435.85,565.70 L435.97,568.29 L436.09,571.60 L436.21,575.72 L436.33,580.69 L436.45,586.59 L436.57,593.48 L436.69,601.41 L436.81,610.44 L436.93,620.63 L437.01,608.42 L437.09,597.59 L437.17,588.08 L437.25,579.83 L437.33,572.76 L437.40,566.80 L437.48,561.87 L437.56,557.90 L437.64,554.79 L437.72,552.47 L437.80,550.83 L437.88,549.77 L437.95,549.15 L438.03,548.82 L439.63,547.82 L439.89,547.49 L440.14,546.87 L440.40,545.80 L440.65,544.16 L440.91,541.83 L441.17,538.72 L441.42,534.73 L441.68,529.79 L441.93,523.81 L442.19,516.72 L442.44,508.44 L442.70,498.90 L442.96,488.04 L443.21,475.79 L443.31,490.93 L443.41,504.36 L443.51,516.15 L443.61,526.38 L443.71,535.15 L443.81,542.54 L443.91,548.65 L444.01,553.58 L444.11,557.42 L444.20,560.30 L444.30,562.33 L444.40,563.66 L444.50,564.42 L444.60,564.83 L446.20,565.83 L446.32,566.04 L446.44,566.44 L446.56,567.12 L446.68,568.17 L446.80,569.66 L446.92,571.65 L447.04,574.19 L447.16,577.35 L447.28,581.18 L447.40,585.71 L447.52,591.00 L447.64,597.10 L447.76,604.04 L447.88,611.87 L448.04,604.28 L448.20,597.25 L448.35,590.78 L448.51,584.87 L448.67,579.52 L448.82,574.74 L448.98,570.52 L449.13,566.87 L449.29,563.77 L449.45,561.24 L449.60,559.27 L449.76,557.86 L449.92,557.02 L450.07,556.74 L450.31,557.05 L450.55,557.98 L450.79,559.54 L451.03,561.72 L451.27,564.52 L451.51,567.94 L451.75,571.98 L451.99,576.65 L452.23,581.94 L452.47,587.85 L452.71,594.38 L452.95,601.54 L453.19,609.31 L453.43,617.71 L453.56,608.58 L453.68,600.12 L453.81,592.34 L453.93,585.24 L454.06,578.81 L454.18,573.06 L454.31,567.99 L454.43,563.59 L454.56,559.87 L454.68,556.82 L454.81,554.46 L454.93,552.76 L455.06,551.75 L455.18,551.41 L455.51,551.83 L455.84,553.07 L456.18,555.15 L456.51,558.05 L456.84,561.79 L457.17,566.35 L457.50,571.75 L457.83,577.97 L458.16,585.03 L458.49,592.91 L458.82,601.63 L459.16,611.17 L459.49,621.54 L459.82,632.75 L459.89,616.54 L459.95,602.17 L460.02,589.55 L460.09,578.59 L460.16,569.20 L460.23,561.29 L460.29,554.75 L460.36,549.48 L460.43,545.36 L460.50,542.28 L460.57,540.11 L460.63,538.69 L460.70,537.87 L460.77,537.43 L462.37,536.43 L462.51,536.25 L462.65,535.91 L462.79,535.33 L462.93,534.43 L463.07,533.15 L463.22,531.45 L463.36,529.26 L463.50,526.55 L463.64,523.28 L463.78,519.39 L463.92,514.85 L464.06,509.62 L464.20,503.67 L464.34,496.96 L464.48,503.75 L464.61,510.04 L464.75,515.82 L464.89,521.10 L465.02,525.88 L465.16,530.16 L465.29,533.93 L465.43,537.20 L465.56,539.97 L465.70,542.23 L465.83,543.99 L465.97,545.25 L466.11,546.00 L466.24,546.25 L466.46,545.98 L466.68,545.17 L466.90,543.81 L467.12,541.91 L467.34,539.46 L467.55,536.48 L467.77,532.94 L467.99,528.87 L468.21,524.25 L468.43,519.09 L468.65,513.39 L468.87,507.14 L469.09,500.35 L469.31,493.02 L469.43,500.91 L469.56,508.23 L469.68,514.95 L469.81,521.09 L469.93,526.65 L470.06,531.62 L470.18,536.01 L470.31,539.81 L470.43,543.03 L470.56,545.66 L470.68,547.71 L470.81,549.17 L470.93,550.05 L471.06,550.34 L471.32,550.02 L471.58,549.04 L471.84,547.42 L472.10,545.15 L472.36,542.23 L472.62,538.66 L472.88,534.44 L473.14,529.57 L473.40,524.06 L473.67,517.89 L473.93,511.08 L474.19,503.61 L474.45,495.50 L474.71,486.74 L474.86,498.41 L475.01,508.75 L475.16,517.83 L475.31,525.72 L475.47,532.47 L475.62,538.17 L475.77,542.88 L475.92,546.67 L476.07,549.63 L476.22,551.85 L476.37,553.42 L476.52,554.44 L476.68,555.03 L476.83,555.34 L478.43,556.34 L478.68,556.71 L478.94,557.40 L479.19,558.60 L479.45,560.45 L479.71,563.06 L479.96,566.55 L480.22,571.02 L480.47,576.56 L480.73,583.27 L480.98,591.22 L481.24,600.51 L481.50,611.21 L481.75,623.39 L482.01,637.13 L482.08,619.45 L482.14,603.78 L482.21,590.02 L482.28,578.08 L482.35,567.84 L482.42,559.21 L482.48,552.08 L482.55,546.34 L482.62,541.85 L482.69,538.49 L482.76,536.11 L482.82,534.57 L482.89,533.68 L482.96,533.20 L484.56,532.20 L484.67,532.07 L484.78,531.82 L484.89,531.39 L485.00,530.73 L485.11,529.79 L485.22,528.54 L485.33,526.94 L485.44,524.95 L485.55,522.55 L485.66,519.69 L485.77,516.36 L485.88,512.53 L485.99,508.16 L486.09,503.24 L486.24,508.42 L486.39,513.22 L486.53,517.63 L486.68,521.66 L486.82,525.31 L486.97,528.57 L487.12,531.45 L487.26,533.94 L487.41,536.05 L487.55,537.78 L487.70,539.12 L487.85,540.08 L487.99,540.66 L488.14,540.85 L488.35,540.65 L488.56,540.03 L488.76,539.00 L488.97,537.57 L489.18,535.72 L489.39,533.46 L489.60,530.79 L489.81,527.71 L490.02,524.22 L490.22,520.32 L490.43,516.01 L490.64,511.28 L490.85,506.15 L491.06,500.61 L491.19,506.45 L491.33,511.87 L491.47,516.85 L491.60,521.39 L491.74,525.51 L491.87,529.19 L492.01,532.43 L492.14,535.25 L492.28,537.63 L492.41,539.58 L492.55,541.09 L492.69,542.18 L492.82,542.83 L492.96,543.04 L493.18,542.81 L493.39,542.11 L493.61,540.95 L493.83,539.32 L494.05,537.22 L494.27,534.66 L494.49,531.63 L494.71,528.14 L494.93,524.18 L495.15,519.75 L495.36,514.86 L495.58,509.51 L495.80,503.68 L496.02,497.40 L496.16,504.13 L496.29,510.36 L496.43,516.09 L496.56,521.33 L496.70,526.06 L496.84,530.30 L496.97,534.04 L497.11,537.28 L497.24,540.02 L497.38,542.26 L497.51,544.01 L497.65,545.26 L497.78,546.00 L497.92,546.25 L498.15,545.99 L498.38,545.18 L498.61,543.84 L498.84,541.97 L499.07,539.56 L499.30,536.61 L499.53,533.13 L499.75,529.11 L499.98,524.55 L500.21,519.46 L500.44,513.84 L500.67,507.68 L500.90,500.98 L501.13,493.75 L501.26,501.40 L501.38,508.49 L501.51,515.01 L501.63,520.97 L501.76,526.35 L501.88,531.17 L502.01,535.43 L502.13,539.11 L502.26,542.23 L502.38,544.78 L502.51,546.77 L502.63,548.18 L502.76,549.04 L502.88,549.32 L503.12,549.00 L503.36,548.06 L503.60,546.49 L503.84,544.28 L504.08,541.45 L504.32,537.99 L504.56,533.89 L504.80,529.17 L505.04,523.82 L505.28,517.84 L505.52,511.23 L505.76,503.99 L506.00,496.12 L506.24,487.62 L506.37,496.86 L506.49,505.42 L506.62,513.29 L506.74,520.48 L506.87,526.99 L506.99,532.81 L507.12,537.94 L507.24,542.40 L507.37,546.16 L507.49,549.24 L507.62,551.64 L507.74,553.35 L507.87,554.38 L507.99,554.72 L508.36,554.30 L508.72,553.02 L509.09,550.90 L509.45,547.93 L509.82,544.11 L510.18,539.45 L510.55,533.93 L510.91,527.57 L511.28,520.35 L511.64,512.29 L512.01,503.38 L512.37,493.62 L512.74,483.01 L513.10,471.56 L513.17,488.04 L513.24,502.65 L513.31,515.49 L513.37,526.63 L513.44,536.17 L513.51,544.22 L513.58,550.87 L513.65,556.23 L513.71,560.42 L513.78,563.55 L513.85,565.76 L513.92,567.20 L513.99,568.04 L514.05,568.48 L515.65,569.48 L515.81,569.65 L515.96,569.97 L516.11,570.53 L516.26,571.39 L516.41,572.60 L516.56,574.23 L516.71,576.31 L516.87,578.88 L517.02,582.00 L517.17,585.70 L517.32,590.02 L517.47,595.00 L517.62,600.67 L517.77,607.06 L517.91,600.73 L518.04,594.87 L518.18,589.48 L518.32,584.56 L518.45,580.10 L518.59,576.12 L518.72,572.60 L518.86,569.56 L518.99,566.98 L519.13,564.87 L519.26,563.23 L519.40,562.06 L519.54,561.35 L519.67,561.12 L519.86,561.37 L520.05,562.12 L520.23,563.38 L520.42,565.14 L520.61,567.41 L520.80,570.17 L520.99,573.44 L521.17,577.22 L521.36,581.49 L521.55,586.27 L521.74,591.55 L521.92,597.34 L522.11,603.62 L522.30,610.41 L522.48,603.12 L522.65,596.37 L522.83,590.15 L523.01,584.48 L523.19,579.35 L523.36,574.76 L523.54,570.71 L523.72,567.19 L523.89,564.22 L524.07,561.79 L524.25,559.90 L524.43,558.55 L524.60,557.74 L524.78,557.47 L524.98,557.76 L525.18,558.65 L525.38,560.12 L525.57,562.18 L525.77,564.84 L525.97,568.08 L526.17,571.91 L526.37,576.33 L526.56,581.34 L526.76,586.94 L526.96,593.13 L527.16,599.91 L527.36,607.27 L527.55,615.23 L527.71,606.61 L527.87,598.63 L528.02,591.29 L528.18,584.58 L528.34,578.51 L528.49,573.09 L528.65,568.30 L528.81,564.15 L528.96,560.63 L529.12,557.76 L529.28,555.53 L529.43,553.93 L529.59,552.97 L529.74,552.65 L530.01,553.02 L530.27,554.12 L530.53,555.95 L530.79,558.52 L531.05,561.83 L531.31,565.86 L531.57,570.63 L531.83,576.14 L532.09,582.37 L532.35,589.35 L532.61,597.05 L532.87,605.49 L533.13,614.67 L533.39,624.57 L533.45,611.02 L533.51,599.00 L533.57,588.45 L533.62,579.29 L533.68,571.44 L533.74,564.83 L533.80,559.36 L533.85,554.95 L533.91,551.51 L533.97,548.93 L534.03,547.11 L534.08,545.93 L534.14,545.24 L534.20,544.88 L535.80,543.88 L536.01,543.61 L536.23,543.11 L536.44,542.25 L536.66,540.92 L536.87,539.04 L537.08,536.53 L537.30,533.31 L537.51,529.32 L537.73,524.49 L537.94,518.77 L538.15,512.08 L538.37,504.38 L538.58,495.61 L538.80,485.72 L538.96,497.68 L539.12,508.29 L539.28,517.60 L539.44,525.69 L539.60,532.62 L539.77,538.46 L539.93,543.29 L540.09,547.18 L540.25,550.22 L540.41,552.49 L540.58,554.10 L540.74,555.14 L540.90,555.75 L541.06,556.07 L542.66,557.07 L542.83,557.41 L543.01,558.04 L543.18,559.14 L543.35,560.82 L543.52,563.21 L543.69,566.39 L543.87,570.47 L544.04,575.54 L544.21,581.66 L544.38,588.93 L544.56,597.41 L544.73,607.18 L544.90,618.30 L545.07,630.85 L545.15,615.16 L545.23,601.25 L545.31,589.04 L545.39,578.44 L545.47,569.35 L545.54,561.69 L545.62,555.36 L545.70,550.26 L545.78,546.28 L545.86,543.29 L545.94,541.19 L546.01,539.82 L546.09,539.02 L546.17,538.60 L547.77,537.60 L547.93,537.41 L548.09,537.04 L548.26,536.41 L548.42,535.45 L548.58,534.08 L548.74,532.24 L548.90,529.90 L549.07,526.99 L549.23,523.47 L549.39,519.30 L549.55,514.42 L549.71,508.81 L549.87,502.42 L550.04,495.21 L550.15,502.44 L550.27,509.14 L550.38,515.30 L550.50,520.92 L550.61,526.01 L550.72,530.57 L550.84,534.59 L550.95,538.07 L551.07,541.02 L551.18,543.43 L551.30,545.30 L551.41,546.64 L551.53,547.45 L551.64,547.71 L551.87,547.42 L552.10,546.54 L552.32,545.07 L552.55,543.01 L552.78,540.36 L553.00,537.13 L553.23,533.31 L553.46,528.90 L553.68,523.90 L553.91,518.32 L554.14,512.14 L554.36,505.38 L554.59,498.03 L554.82,490.10 L554.94,498.70 L555.07,506.66 L555.19,513.99 L555.32,520.68 L555.44,526.73 L555.57,532.14 L555.69,536.92 L555.82,541.06 L555.94,544.57 L556.07,547.43 L556.19,549.66 L556.32,551.26 L556.44,552.21 L556.57,552.53 L556.88,552.16 L557.19,551.05 L557.51,549.19 L557.82,546.60 L558.13,543.26 L558.45,539.19 L558.76,534.37 L559.07,528.81 L559.38,522.51 L559.70,515.46 L560.01,507.68 L560.32,499.15 L560.64,489.89 L560.95,479.88 L561.05,493.70 L561.15,505.96 L561.25,516.73 L561.35,526.07 L561.45,534.08 L561.54,540.83 L561.64,546.41 L561.74,550.90 L561.84,554.42 L561.94,557.04 L562.04,558.90 L562.14,560.11 L562.24,560.81 L562.34,561.18 L563.94,562.18 L564.09,562.44 L564.24,562.92 L564.39,563.76 L564.54,565.04 L564.70,566.86 L564.85,569.29 L565.00,572.40 L565.15,576.26 L565.30,580.93 L565.45,586.47 L565.60,592.94 L565.76,600.39 L565.91,608.87 L566.06,618.44 L566.19,609.05 L566.33,600.35 L566.47,592.35 L566.60,585.04 L566.74,578.43 L566.87,572.51 L567.01,567.29 L567.14,562.77 L567.28,558.94 L567.41,555.81 L567.55,553.37 L567.69,551.63 L567.82,550.59 L567.96,550.24 L568.34,550.69 L568.73,552.02 L569.11,554.25 L569.50,557.36 L569.89,561.36 L570.27,566.26 L570.66,572.04 L571.04,578.71 L571.43,586.27 L571.81,594.72 L572.20,604.06 L572.59,614.29 L572.97,625.41 L573.36,637.42 L573.40,619.62 L573.45,603.84 L573.50,589.99 L573.55,577.95 L573.59,567.65 L573.64,558.96 L573.69,551.78 L573.73,545.99 L573.78,541.47 L573.83,538.09 L573.88,535.70 L573.92,534.14 L573.97,533.24 L574.02,532.76 L575.62,531.76 L575.76,531.63 L575.90,531.39 L576.04,530.96 L576.18,530.31 L576.32,529.39 L576.46,528.16 L576.60,526.58 L576.75,524.62 L576.89,522.25 L577.03,519.44 L577.17,516.17 L577.31,512.39 L577.45,508.09 L577.59,503.24 L577.74,508.32 L577.88,513.02 L578.03,517.35 L578.18,521.30 L578.32,524.88 L578.47,528.08 L578.61,530.90 L578.76,533.35 L578.91,535.42 L579.05,537.11 L579.20,538.43 L579.34,539.37 L579.49,539.93 L579.64,540.12 L579.83,539.92 L580.03,539.32 L580.23,538.33 L580.43,536.93 L580.63,535.14 L580.82,532.94 L581.02,530.35 L581.22,527.36 L581.42,523.97 L581.62,520.19 L581.81,516.00 L582.01,511.41 L582.21,506.43 L582.41,501.05 L582.55,506.77 L582.70,512.07 L582.85,516.95 L582.99,521.40 L583.14,525.43 L583.28,529.03 L583.43,532.21 L583.58,534.97 L583.72,537.30 L583.87,539.21 L584.01,540.70 L584.16,541.76 L584.31,542.39 L584.45,542.60 L584.66,542.38 L584.87,541.70 L585.08,540.56 L585.29,538.97 L585.50,536.93 L585.70,534.43 L585.91,531.48 L586.12,528.08 L586.33,524.22 L586.54,519.91 L586.75,515.15 L586.96,509.93 L587.16,504.25 L587.37,498.13 L587.51,504.62 L587.64,510.62 L587.78,516.15 L587.91,521.20 L588.05,525.76 L588.19,529.85 L588.32,533.46 L588.46,536.58 L588.59,539.22 L588.73,541.39 L588.86,543.07 L589.00,544.27 L589.13,544.99 L589.27,545.23 L589.49,544.97 L589.71,544.20 L589.93,542.90 L590.15,541.09 L590.36,538.76 L590.58,535.91 L590.80,532.54 L591.02,528.66 L591.24,524.26 L591.46,519.34 L591.68,513.90 L591.90,507.94 L592.12,501.47 L592.34,494.48 L592.47,501.91 L592.61,508.79 L592.74,515.13 L592.88,520.91 L593.01,526.14 L593.15,530.82 L593.28,534.95 L593.42,538.53 L593.56,541.56 L593.69,544.04 L593.83,545.97 L593.96,547.34 L594.10,548.17 L594.23,548.44 L594.46,548.14 L594.69,547.24 L594.92,545.73 L595.15,543.62 L595.38,540.91 L595.61,537.59 L595.84,533.67 L596.07,529.15 L596.30,524.03 L596.53,518.30 L596.76,511.97 L596.99,505.04 L597.22,497.51 L597.45,489.37 L597.58,498.17 L597.72,506.32 L597.85,513.82 L597.99,520.66 L598.12,526.86 L598.26,532.40 L598.39,537.29 L598.53,541.53 L598.67,545.11 L598.80,548.04 L598.94,550.33 L599.07,551.96 L599.21,552.93 L599.34,553.26 L599.65,552.87 L599.95,551.70 L600.25,549.76 L600.55,547.03 L600.86,543.53 L601.16,539.25 L601.46,534.19 L601.76,528.35 L602.06,521.73 L602.37,514.33 L602.67,506.16 L602.97,497.20 L603.27,487.47 L603.58,476.96 L603.68,491.65 L603.78,504.68 L603.87,516.12 L603.97,526.06 L604.07,534.57 L604.17,541.74 L604.27,547.67 L604.37,552.45 L604.47,556.18 L604.57,558.97 L604.67,560.95 L604.77,562.23 L604.87,562.97 L604.97,563.37 L606.57,564.37 L606.72,564.59 L606.87,565.02 L607.02,565.75 L607.17,566.88 L607.32,568.48 L607.47,570.61 L607.63,573.34 L607.78,576.73 L607.93,580.84 L608.08,585.70 L608.23,591.38 L608.38,597.92 L608.53,605.37 L608.69,613.77 L608.79,605.58 L608.89,598.00 L609.00,591.03 L609.10,584.66 L609.21,578.90 L609.31,573.74 L609.42,569.19 L609.52,565.25 L609.62,561.91 L609.73,559.18 L609.83,557.06 L609.94,555.54 L610.04,554.63 L610.15,554.33 L610.42,554.67 L610.69,555.70 L610.96,557.41 L611.23,559.80 L611.50,562.88 L611.77,566.64 L612.04,571.09 L612.31,576.22 L612.59,582.03 L612.86,588.53 L613.13,595.71 L613.40,603.58 L613.67,612.13 L613.94,621.36 L614.06,608.90 L614.18,597.85 L614.30,588.15 L614.42,579.73 L614.54,572.51 L614.66,566.43 L614.78,561.40 L614.90,557.35 L615.02,554.19 L615.14,551.82 L615.26,550.14 L615.38,549.06 L615.50,548.43 L615.62,548.09 L617.22,547.09 L617.44,546.78 L617.65,546.19 L617.87,545.17 L618.08,543.60 L618.29,541.38 L618.51,538.41 L618.72,534.61 L618.94,529.90 L619.15,524.20 L619.36,517.44 L619.58,509.54 L619.79,500.45 L620.01,490.10 L620.22,478.42 L620.31,492.87 L620.40,505.67 L620.49,516.92 L620.57,526.69 L620.66,535.05 L620.75,542.11 L620.84,547.93 L620.93,552.63 L621.02,556.30 L621.11,559.05 L621.20,560.99 L621.29,562.25 L621.37,562.98 L621.46,563.37 L623.06,564.37 L623.20,564.60 L623.34,565.04 L623.49,565.79 L623.63,566.95 L623.77,568.59 L623.91,570.78 L624.05,573.58 L624.19,577.06 L624.33,581.27 L624.47,586.27 L624.61,592.10 L624.75,598.81 L624.90,606.46 L625.04,615.09 L625.17,606.52 L625.31,598.58 L625.44,591.28 L625.58,584.61 L625.71,578.58 L625.85,573.19 L625.99,568.42 L626.12,564.30 L626.26,560.81 L626.39,557.95 L626.53,555.73 L626.66,554.14 L626.80,553.19 L626.93,552.87 L627.21,553.24 L627.48,554.33 L627.75,556.15 L628.02,558.70 L628.29,561.98 L628.56,565.99 L628.83,570.72 L629.10,576.19 L629.37,582.38 L629.65,589.31 L629.92,596.96 L630.19,605.34 L630.46,614.45 L630.73,624.28 L630.82,610.78 L630.91,598.81 L631.00,588.29 L631.09,579.17 L631.17,571.35 L631.26,564.75 L631.35,559.31 L631.44,554.91 L631.53,551.48 L631.62,548.92 L631.71,547.10 L631.80,545.93 L631.88,545.24 L631.97,544.88 L633.57,543.88 L633.77,543.61 L633.96,543.10 L634.15,542.22 L634.35,540.87 L634.54,538.96 L634.73,536.40 L634.93,533.13 L635.12,529.07 L635.31,524.15 L635.50,518.32 L635.70,511.52 L635.89,503.68 L636.08,494.76 L636.28,484.70 L636.42,496.96 L636.56,507.83 L636.70,517.38 L636.84,525.66 L636.98,532.77 L637.12,538.75 L637.26,543.70 L637.41,547.69 L637.55,550.80 L637.69,553.13 L637.83,554.78 L637.97,555.85 L638.11,556.47 L638.25,556.80 L639.85,557.80 L640.00,558.12 L640.15,558.73 L640.31,559.79 L640.46,561.40 L640.61,563.69 L640.76,566.75 L640.91,570.67 L641.06,575.54 L641.21,581.42 L641.37,588.40 L641.52,596.54 L641.67,605.93 L641.82,616.61 L641.97,628.66 L642.10,613.67 L642.23,600.38 L642.36,588.70 L642.49,578.57 L642.62,569.89 L642.75,562.57 L642.88,556.52 L643.02,551.64 L643.15,547.83 L643.28,544.98 L643.41,542.97 L643.54,541.66 L643.67,540.90 L643.80,540.50 L645.40,539.50 L645.54,539.28 L645.68,538.87 L645.82,538.17 L645.96,537.08 L646.10,535.55 L646.24,533.50 L646.39,530.87 L646.53,527.61 L646.67,523.67 L646.81,518.99 L646.95,513.53 L647.09,507.24 L647.23,500.07 L647.37,491.99 L647.51,500.13 L647.64,507.67 L647.77,514.60 L647.90,520.93 L648.04,526.66 L648.17,531.78 L648.30,536.30 L648.44,540.22 L648.57,543.54 L648.70,546.25 L648.83,548.36 L648.97,549.87 L649.10,550.77 L649.23,551.07 L649.49,550.73 L649.75,549.71 L650.02,548.00 L650.28,545.62 L650.54,542.55 L650.80,538.80 L651.06,534.37 L651.32,529.25 L651.58,523.46 L651.84,516.98 L652.10,509.82 L652.36,501.98 L652.62,493.46 L652.88,484.26 L652.99,494.35 L653.10,503.69 L653.21,512.29 L653.32,520.14 L653.42,527.24 L653.53,533.60 L653.64,539.20 L653.75,544.06 L653.86,548.17 L653.97,551.54 L654.07,554.15 L654.18,556.02 L654.29,557.14 L654.40,557.52"/></defs>
<use href="#c2" fill="none" stroke="#1f77b4" stroke-width="2.6" stroke-opacity="0.3" stroke-linejoin="round"/>
<use href="#c2" fill="none" stroke="#1f77b4" stroke-width="1.75" stroke-linejoin="round"/>
<rect x="54.2" y="463.25" width="628.8" height="184.25" fill="none" stroke="#4a4a4a" stroke-width="1.3"/>
<line x1="82.30" y1="647.5" x2="82.30" y2="651.90" stroke="#383838" stroke-width="1.1"/>
<text x="82.30" y="666.30" font-size="12.6" letter-spacing="-0.5" text-anchor="middle">0</text>
<line x1="153.80" y1="647.5" x2="153.80" y2="651.90" stroke="#383838" stroke-width="1.1"/>
<text x="153.80" y="666.30" font-size="12.6" letter-spacing="-0.5" text-anchor="middle">1000</text>
<line x1="225.30" y1="647.5" x2="225.30" y2="651.90" stroke="#383838" stroke-width="1.1"/>
<text x="225.30" y="666.30" font-size="12.6" letter-spacing="-0.5" text-anchor="middle">2000</text>
<line x1="296.80" y1="647.5" x2="296.80" y2="651.90" stroke="#383838" stroke-width="1.1"/>
<text x="296.80" y="666.30" font-size="12.6" letter-spacing="-0.5" text-anchor="middle">3000</text>
<line x1="368.30" y1="647.5" x2="368.30" y2="651.90" stroke="#383838" stroke-width="1.1"/>
<text x="368.30" y="666.30" font-size="12.6" letter-spacing="-0.5" text-anchor="middle">4000</text>
<line x1="439.80" y1="647.5" x2="439.80" y2="651.90" stroke="#383838" stroke-width="1.1"/>
<text x="439.80" y="666.30" font-size="12.6" letter-spacing="-0.5" text-anchor="middle">5000</text>
<line x1="511.30" y1="647.5" x2="511.30" y2="651.90" stroke="#383838" stroke-width="1.1"/>
<text x="511.30" y="666.30" font-size="12.6" letter-spacing="-0.5" text-anchor="middle">6000</text>
<line x1="582.80" y1="647.5" x2="582.80" y2="651.90" stroke="#383838" stroke-width="1.1"/>
<text x="582.80" y="666.30" font-size="12.6" letter-spacing="-0.5" text-anchor="middle">7000</text>
<line x1="654.30" y1="647.5" x2="654.30" y2="651.90" stroke="#383838" stroke-width="1.1"/>
<text x="654.30" y="666.30" font-size="12.6" letter-spacing="-0.5" text-anchor="middle">8000</text>
<text x="367.6" y="684.20" font-size="12.6" text-anchor="middle">Time</text>
<line x1="49.80" y1="480.4" x2="54.2" y2="480.4" stroke="#383838" stroke-width="1.1"/>
<text x="43.60" y="486.30" font-size="12.6" letter-spacing="-0.5" text-anchor="end">20</text>
<line x1="49.80" y1="517.2" x2="54.2" y2="517.2" stroke="#383838" stroke-width="1.1"/>
<text x="43.60" y="523.10" font-size="12.6" letter-spacing="-0.5" text-anchor="end">10</text>
<line x1="49.80" y1="553.6" x2="54.2" y2="553.6" stroke="#383838" stroke-width="1.1"/>
<text x="45.00" y="559.50" font-size="12.6" letter-spacing="-0.5" text-anchor="end">0</text>
<line x1="49.80" y1="589.7" x2="54.2" y2="589.7" stroke="#383838" stroke-width="1.1"/>
<text x="43.60" y="595.60" font-size="12.6" letter-spacing="-0.5" text-anchor="end">−10</text>
<line x1="49.80" y1="626.0" x2="54.2" y2="626.0" stroke="#383838" stroke-width="1.1"/>
<text x="43.60" y="631.90" font-size="12.6" letter-spacing="-0.5" text-anchor="end">−20</text>
<text transform="translate(10.4,555.77) rotate(-90)" font-size="12.35" text-anchor="middle">Lz Sequence</text>
</svg>
</body></html>
